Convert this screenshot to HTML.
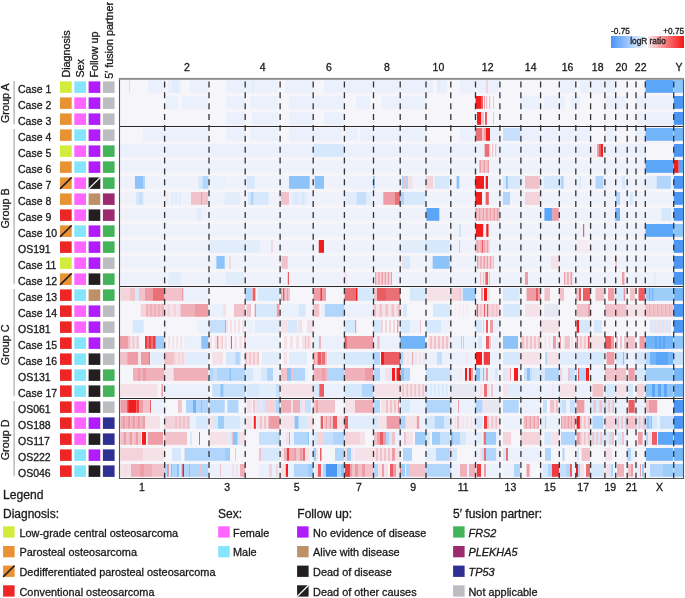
<!DOCTYPE html><html><head><meta charset="utf-8"><style>html,body{margin:0;padding:0;background:#fff;width:685px;height:598px;overflow:hidden}svg{display:block}text{font-family:"Liberation Sans",Arial,sans-serif;fill:#1a1a1a;stroke:#1a1a1a;stroke-width:0.3px}</style></head><body>
<svg width="685" height="598" viewBox="0 0 685 598">
<defs><linearGradient id="cb" x1="0" x2="1" y1="0" y2="0"><stop offset="0" stop-color="#4a94f8"/><stop offset="0.5" stop-color="#ffffff"/><stop offset="0.53" stop-color="#f6dde1"/><stop offset="1" stop-color="#f81414"/></linearGradient></defs>
<rect x="119.5" y="78.5" width="564.0" height="400.0" fill="#f6f5fa"/>
<rect x="120" y="80.0" width="563" height="12.8" fill="#f6f5fa"/>
<rect x="148.0" y="80.0" width="16.3" height="12.8" fill="#ebf1fc"/>
<rect x="168.0" y="80.0" width="13.0" height="12.8" fill="#ebf1fc"/>
<rect x="172.0" y="80.0" width="7.0" height="12.8" fill="#e2edfc"/>
<rect x="190.0" y="80.0" width="18.0" height="12.8" fill="#ebf1fc"/>
<rect x="226.0" y="80.0" width="19.0" height="12.8" fill="#ebf1fc"/>
<rect x="245.0" y="80.0" width="10.0" height="12.8" fill="#ebf1fc"/>
<rect x="252.0" y="80.0" width="2.0" height="12.8" fill="#e2edfc"/>
<rect x="255.0" y="80.0" width="23.0" height="12.8" fill="#ebf1fc"/>
<rect x="285.0" y="80.0" width="28.0" height="12.8" fill="#ebf1fc"/>
<rect x="324.0" y="80.0" width="20.0" height="12.8" fill="#ebf1fc"/>
<rect x="345.0" y="80.0" width="28.0" height="12.8" fill="#ebf1fc"/>
<rect x="374.0" y="80.0" width="26.0" height="12.8" fill="#ebf1fc"/>
<rect x="400.3" y="80.0" width="24.7" height="12.8" fill="#ebf1fc"/>
<rect x="425.8" y="80.0" width="7.2" height="12.8" fill="#ebf1fc"/>
<rect x="437.0" y="80.0" width="3.0" height="12.8" fill="#e2edfc"/>
<rect x="440.0" y="80.0" width="7.0" height="12.8" fill="#ebf1fc"/>
<rect x="460.0" y="80.0" width="15.0" height="12.8" fill="#ebf1fc"/>
<rect x="560.0" y="80.0" width="15.0" height="12.8" fill="#ebf1fc"/>
<rect x="580.0" y="80.0" width="10.0" height="12.8" fill="#ebf1fc"/>
<rect x="591.0" y="80.0" width="13.0" height="12.8" fill="#ebf1fc"/>
<rect x="605.0" y="80.0" width="10.0" height="12.8" fill="#ebf1fc"/>
<rect x="645.5" y="80.0" width="27.9" height="12.8" fill="#5ca6f7"/>
<rect x="673.8" y="80.0" width="9.2" height="12.8" fill="#8cc4fa"/>
<rect x="476.0" y="80.0" width="11.0" height="12.8" fill="#ebf1fc"/>
<rect x="487.0" y="80.0" width="1.0" height="12.8" fill="#ec5c63"/>
<rect x="486.0" y="80.0" width="3.0" height="12.8" fill="#f4d4da"/>
<rect x="488.0" y="80.0" width="11.0" height="12.8" fill="#ebf1fc"/>
<rect x="129.0" y="80.0" width="1.0" height="12.8" fill="#f4d4da"/>
<rect x="120" y="96.0" width="563" height="12.8" fill="#f6f5fa"/>
<rect x="166.0" y="96.0" width="12.0" height="12.8" fill="#ebf1fc"/>
<rect x="182.0" y="96.0" width="26.0" height="12.8" fill="#ebf1fc"/>
<rect x="226.0" y="96.0" width="19.0" height="12.8" fill="#ebf1fc"/>
<rect x="250.0" y="96.0" width="28.0" height="12.8" fill="#ebf1fc"/>
<rect x="289.0" y="96.0" width="24.0" height="12.8" fill="#ebf1fc"/>
<rect x="313.5" y="96.0" width="30.5" height="12.8" fill="#ebf1fc"/>
<rect x="356.0" y="96.0" width="14.0" height="12.8" fill="#ebf1fc"/>
<rect x="382.0" y="96.0" width="43.0" height="12.8" fill="#ebf1fc"/>
<rect x="520.4" y="96.0" width="19.6" height="12.8" fill="#ebf1fc"/>
<rect x="544.0" y="96.0" width="14.0" height="12.8" fill="#ebf1fc"/>
<rect x="560.0" y="96.0" width="5.0" height="12.8" fill="#ebf1fc"/>
<rect x="571.0" y="96.0" width="9.0" height="12.8" fill="#ebf1fc"/>
<rect x="605.0" y="96.0" width="21.0" height="12.8" fill="#ebf1fc"/>
<rect x="636.0" y="96.0" width="8.0" height="12.8" fill="#ebf1fc"/>
<rect x="645.5" y="96.0" width="27.9" height="12.8" fill="#ebf1fc"/>
<rect x="673.8" y="96.0" width="9.2" height="12.8" fill="#4a96f5"/>
<rect x="475.6" y="96.0" width="5.4" height="12.8" fill="#f21d1d"/>
<rect x="481.0" y="96.0" width="2.0" height="12.8" fill="#ec5c63"/>
<rect x="484.0" y="96.0" width="1.0" height="12.8" fill="#ee9da6"/>
<rect x="486.0" y="96.0" width="1.5" height="12.8" fill="#f2c2ca"/>
<rect x="487.5" y="96.0" width="1.5" height="12.8" fill="#f6f5fa"/>
<rect x="489.0" y="96.0" width="1.5" height="12.8" fill="#f2c2ca"/>
<rect x="490.5" y="96.0" width="0.5" height="12.8" fill="#f6f5fa"/>
<rect x="493.0" y="96.0" width="1.0" height="12.8" fill="#f2c2ca"/>
<rect x="120" y="112.0" width="563" height="12.8" fill="#f6f5fa"/>
<rect x="226.0" y="112.0" width="19.0" height="12.8" fill="#ebf1fc"/>
<rect x="252.0" y="112.0" width="26.0" height="12.8" fill="#ebf1fc"/>
<rect x="289.0" y="112.0" width="24.0" height="12.8" fill="#ebf1fc"/>
<rect x="324.0" y="112.0" width="20.0" height="12.8" fill="#ebf1fc"/>
<rect x="637.0" y="112.0" width="7.0" height="12.8" fill="#ebf1fc"/>
<rect x="645.5" y="112.0" width="27.9" height="12.8" fill="#ebf1fc"/>
<rect x="673.8" y="112.0" width="9.2" height="12.8" fill="#4a96f5"/>
<rect x="477.0" y="112.0" width="4.0" height="12.8" fill="#f21d1d"/>
<rect x="481.0" y="112.0" width="3.0" height="12.8" fill="#f2c2ca"/>
<rect x="485.0" y="112.0" width="2.0" height="12.8" fill="#ec5c63"/>
<rect x="493.0" y="112.0" width="1.0" height="12.8" fill="#f2c2ca"/>
<rect x="120" y="128.0" width="563" height="12.8" fill="#f6f5fa"/>
<rect x="143.0" y="128.0" width="65.0" height="12.8" fill="#ebf1fc"/>
<rect x="226.0" y="128.0" width="19.0" height="12.8" fill="#ebf1fc"/>
<rect x="250.0" y="128.0" width="28.0" height="12.8" fill="#ebf1fc"/>
<rect x="289.0" y="128.0" width="24.0" height="12.8" fill="#ebf1fc"/>
<rect x="313.5" y="128.0" width="28.5" height="12.8" fill="#ebf1fc"/>
<rect x="345.0" y="128.0" width="13.0" height="12.8" fill="#ebf1fc"/>
<rect x="360.0" y="128.0" width="13.0" height="12.8" fill="#ebf1fc"/>
<rect x="374.0" y="128.0" width="51.0" height="12.8" fill="#ebf1fc"/>
<rect x="460.0" y="128.0" width="15.0" height="12.8" fill="#ebf1fc"/>
<rect x="520.4" y="128.0" width="19.6" height="12.8" fill="#ebf1fc"/>
<rect x="541.0" y="128.0" width="17.0" height="12.8" fill="#ebf1fc"/>
<rect x="560.0" y="128.0" width="15.0" height="12.8" fill="#ebf1fc"/>
<rect x="576.0" y="128.0" width="14.0" height="12.8" fill="#ebf1fc"/>
<rect x="605.0" y="128.0" width="10.0" height="12.8" fill="#ebf1fc"/>
<rect x="636.0" y="128.0" width="8.0" height="12.8" fill="#ebf1fc"/>
<rect x="503.0" y="128.0" width="17.2" height="12.8" fill="#c6e0fb"/>
<rect x="673.8" y="128.0" width="9.2" height="12.8" fill="#72b4f8"/>
<rect x="475.6" y="128.0" width="6.4" height="12.8" fill="#ea7078"/>
<rect x="482.0" y="128.0" width="2.0" height="12.8" fill="#f2c2ca"/>
<rect x="484.0" y="128.0" width="2.0" height="12.8" fill="#ee9da6"/>
<rect x="486.0" y="128.0" width="4.0" height="12.8" fill="#f21d1d"/>
<rect x="490.0" y="128.0" width="9.8" height="12.8" fill="#ebf1fc"/>
<rect x="645.5" y="128.0" width="27.9" height="12.8" fill="#72b4f8"/>
<rect x="120" y="144.0" width="563" height="12.8" fill="#ebf1fc"/>
<rect x="313.9" y="144.0" width="30.1" height="12.8" fill="#d6e8fc"/>
<rect x="673.8" y="144.0" width="9.2" height="12.8" fill="#4a96f5"/>
<rect x="484.0" y="144.0" width="1.0" height="12.8" fill="#f2c2ca"/>
<rect x="485.0" y="144.0" width="4.0" height="12.8" fill="#ea7078"/>
<rect x="489.0" y="144.0" width="1.5" height="12.8" fill="#f2c2ca"/>
<rect x="490.5" y="144.0" width="1.5" height="12.8" fill="#f6f5fa"/>
<rect x="492.0" y="144.0" width="1.5" height="12.8" fill="#f2c2ca"/>
<rect x="493.5" y="144.0" width="1.5" height="12.8" fill="#f6f5fa"/>
<rect x="495.0" y="144.0" width="1.5" height="12.8" fill="#f2c2ca"/>
<rect x="496.5" y="144.0" width="0.5" height="12.8" fill="#f6f5fa"/>
<rect x="591.0" y="144.0" width="1.5" height="12.8" fill="#f5e2e8"/>
<rect x="592.5" y="144.0" width="1.5" height="12.8" fill="#f6f5fa"/>
<rect x="594.0" y="144.0" width="1.5" height="12.8" fill="#f5e2e8"/>
<rect x="595.5" y="144.0" width="1.5" height="12.8" fill="#f6f5fa"/>
<rect x="597.0" y="144.0" width="2.0" height="12.8" fill="#ee9da6"/>
<rect x="599.0" y="144.0" width="2.0" height="12.8" fill="#ec5c63"/>
<rect x="601.0" y="144.0" width="2.0" height="12.8" fill="#f21d1d"/>
<rect x="645.5" y="144.0" width="27.9" height="12.8" fill="#f6f5fa"/>
<rect x="120" y="160.0" width="563" height="12.8" fill="#f0f2fb"/>
<rect x="479.4" y="160.0" width="2.0" height="12.8" fill="#ee9da6"/>
<rect x="481.4" y="160.0" width="2.0" height="12.8" fill="#f2c2ca"/>
<rect x="483.4" y="160.0" width="2.0" height="12.8" fill="#ee9da6"/>
<rect x="485.4" y="160.0" width="2.0" height="12.8" fill="#f2c2ca"/>
<rect x="487.4" y="160.0" width="1.6" height="12.8" fill="#ee9da6"/>
<rect x="645.5" y="160.0" width="27.9" height="12.8" fill="#5ca6f7"/>
<rect x="673.8" y="160.0" width="4.9" height="12.8" fill="#f21d1d"/>
<rect x="678.7" y="160.0" width="4.3" height="12.8" fill="#5ca6f7"/>
<rect x="120" y="176.0" width="563" height="12.8" fill="#f0f2fb"/>
<rect x="135.0" y="176.0" width="8.0" height="12.8" fill="#8cc4fa"/>
<rect x="143.0" y="176.0" width="2.0" height="12.8" fill="#b2d6fb"/>
<rect x="198.6" y="176.0" width="10.9" height="12.8" fill="#d6e8fc"/>
<rect x="202.7" y="176.0" width="5.3" height="12.8" fill="#b2d6fb"/>
<rect x="209.5" y="176.0" width="16.5" height="12.8" fill="#ebf1fc"/>
<rect x="246.6" y="176.0" width="8.2" height="12.8" fill="#d6e8fc"/>
<rect x="289.0" y="176.0" width="20.7" height="12.8" fill="#8cc4fa"/>
<rect x="314.7" y="176.0" width="9.3" height="12.8" fill="#8cc4fa"/>
<rect x="401.7" y="176.0" width="2.3" height="12.8" fill="#b2d6fb"/>
<rect x="404.0" y="176.0" width="2.0" height="12.8" fill="#f2c2ca"/>
<rect x="406.0" y="176.0" width="2.0" height="12.8" fill="#b2d6fb"/>
<rect x="408.0" y="176.0" width="4.6" height="12.8" fill="#f5e2e8"/>
<rect x="426.0" y="176.0" width="7.0" height="12.8" fill="#f4d4da"/>
<rect x="434.6" y="176.0" width="15.1" height="12.8" fill="#d6e8fc"/>
<rect x="456.6" y="176.0" width="2.7" height="12.8" fill="#8cc4fa"/>
<rect x="475.3" y="176.0" width="8.7" height="12.8" fill="#f21d1d"/>
<rect x="485.7" y="176.0" width="2.3" height="12.8" fill="#f21d1d"/>
<rect x="503.0" y="176.0" width="17.2" height="12.8" fill="#d6e8fc"/>
<rect x="506.0" y="176.0" width="1.7" height="12.8" fill="#8cc4fa"/>
<rect x="525.0" y="176.0" width="14.7" height="12.8" fill="#f2c2ca"/>
<rect x="543.8" y="176.0" width="20.2" height="12.8" fill="#d6e8fc"/>
<rect x="561.0" y="176.0" width="2.5" height="12.8" fill="#b2d6fb"/>
<rect x="579.5" y="176.0" width="1.5" height="12.8" fill="#d6e8fc"/>
<rect x="595.5" y="176.0" width="7.9" height="12.8" fill="#b2d6fb"/>
<rect x="622.0" y="176.0" width="3.0" height="12.8" fill="#d6e8fc"/>
<rect x="645.5" y="176.0" width="11.5" height="12.8" fill="#e2edfc"/>
<rect x="656.8" y="176.0" width="14.1" height="12.8" fill="#b2d6fb"/>
<rect x="673.8" y="176.0" width="9.2" height="12.8" fill="#4a96f5"/>
<rect x="351.0" y="176.0" width="22.0" height="12.8" fill="#ebf1fc"/>
<rect x="373.0" y="176.0" width="2.0" height="12.8" fill="#9fcdfa"/>
<rect x="120" y="192.0" width="563" height="12.8" fill="#f0f2fb"/>
<rect x="248.0" y="192.0" width="20.6" height="12.8" fill="#d6e8fc"/>
<rect x="250.7" y="192.0" width="2.8" height="12.8" fill="#b2d6fb"/>
<rect x="281.0" y="192.0" width="8.0" height="12.8" fill="#f2c2ca"/>
<rect x="383.3" y="192.0" width="11.7" height="12.8" fill="#ee9da6"/>
<rect x="395.0" y="192.0" width="5.3" height="12.8" fill="#ea7078"/>
<rect x="400.3" y="192.0" width="4.1" height="12.8" fill="#b2d6fb"/>
<rect x="404.4" y="192.0" width="20.6" height="12.8" fill="#d6e8fc"/>
<rect x="475.3" y="192.0" width="6.7" height="12.8" fill="#f21d1d"/>
<rect x="485.7" y="192.0" width="3.1" height="12.8" fill="#ec5c63"/>
<rect x="503.0" y="192.0" width="7.0" height="12.8" fill="#b2d6fb"/>
<rect x="616.0" y="192.0" width="4.0" height="12.8" fill="#b2d6fb"/>
<rect x="630.0" y="192.0" width="3.0" height="12.8" fill="#d6e8fc"/>
<rect x="673.8" y="192.0" width="9.2" height="12.8" fill="#4a96f5"/>
<rect x="136.0" y="192.0" width="7.7" height="12.8" fill="#d6e8fc"/>
<rect x="139.0" y="192.0" width="3.0" height="12.8" fill="#c6e0fb"/>
<rect x="166.5" y="192.0" width="1.0" height="12.8" fill="#f5e2e8"/>
<rect x="171.0" y="192.0" width="2.0" height="12.8" fill="#e2edfc"/>
<rect x="173.0" y="192.0" width="2.0" height="12.8" fill="#ebf1fc"/>
<rect x="175.0" y="192.0" width="2.0" height="12.8" fill="#e2edfc"/>
<rect x="177.0" y="192.0" width="2.0" height="12.8" fill="#ebf1fc"/>
<rect x="179.0" y="192.0" width="2.0" height="12.8" fill="#e2edfc"/>
<rect x="181.0" y="192.0" width="1.0" height="12.8" fill="#ebf1fc"/>
<rect x="191.0" y="192.0" width="17.0" height="12.8" fill="#f2c2ca"/>
<rect x="201.0" y="192.0" width="1.0" height="12.8" fill="#ee9da6"/>
<rect x="224.6" y="192.0" width="15.1" height="12.8" fill="#e2edfc"/>
<rect x="290.5" y="192.0" width="16.5" height="12.8" fill="#e2edfc"/>
<rect x="295.0" y="192.0" width="2.0" height="12.8" fill="#d6e8fc"/>
<rect x="302.0" y="192.0" width="2.0" height="12.8" fill="#d6e8fc"/>
<rect x="345.4" y="192.0" width="10.6" height="12.8" fill="#e2edfc"/>
<rect x="356.4" y="192.0" width="9.6" height="12.8" fill="#c6e0fb"/>
<rect x="366.0" y="192.0" width="5.5" height="12.8" fill="#e2edfc"/>
<rect x="525.0" y="192.0" width="15.0" height="12.8" fill="#f4d4da"/>
<rect x="120" y="208.0" width="563" height="12.8" fill="#f0f2fb"/>
<rect x="426.4" y="208.0" width="12.9" height="12.8" fill="#5ca6f7"/>
<rect x="475.3" y="208.0" width="1.8" height="12.8" fill="#ee9da6"/>
<rect x="477.1" y="208.0" width="1.8" height="12.8" fill="#f2c2ca"/>
<rect x="478.9" y="208.0" width="1.8" height="12.8" fill="#ee9da6"/>
<rect x="480.7" y="208.0" width="1.8" height="12.8" fill="#f2c2ca"/>
<rect x="482.5" y="208.0" width="1.8" height="12.8" fill="#ee9da6"/>
<rect x="484.3" y="208.0" width="1.8" height="12.8" fill="#f2c2ca"/>
<rect x="486.1" y="208.0" width="1.8" height="12.8" fill="#ee9da6"/>
<rect x="487.9" y="208.0" width="1.8" height="12.8" fill="#f2c2ca"/>
<rect x="489.7" y="208.0" width="1.8" height="12.8" fill="#ee9da6"/>
<rect x="491.5" y="208.0" width="1.8" height="12.8" fill="#f2c2ca"/>
<rect x="493.3" y="208.0" width="1.8" height="12.8" fill="#ee9da6"/>
<rect x="495.1" y="208.0" width="1.8" height="12.8" fill="#f2c2ca"/>
<rect x="496.9" y="208.0" width="1.8" height="12.8" fill="#ee9da6"/>
<rect x="498.7" y="208.0" width="1.1" height="12.8" fill="#f2c2ca"/>
<rect x="552.2" y="208.0" width="6.6" height="12.8" fill="#ee9da6"/>
<rect x="661.5" y="208.0" width="9.5" height="12.8" fill="#d6e8fc"/>
<rect x="673.8" y="208.0" width="9.2" height="12.8" fill="#4a96f5"/>
<rect x="197.0" y="208.0" width="4.3" height="12.8" fill="#e2edfc"/>
<rect x="544.4" y="208.0" width="7.8" height="12.8" fill="#5ca6f7"/>
<rect x="615.3" y="208.0" width="4.7" height="12.8" fill="#72b4f8"/>
<rect x="120" y="224.0" width="563" height="12.8" fill="#f0f2fb"/>
<rect x="459.4" y="224.0" width="1.0" height="12.8" fill="#b2d6fb"/>
<rect x="475.8" y="224.0" width="7.4" height="12.8" fill="#f21d1d"/>
<rect x="486.3" y="224.0" width="2.2" height="12.8" fill="#f21d1d"/>
<rect x="583.0" y="224.0" width="1.2" height="12.8" fill="#ec5c63"/>
<rect x="645.5" y="224.0" width="27.9" height="12.8" fill="#5ca6f7"/>
<rect x="673.8" y="224.0" width="9.2" height="12.8" fill="#8cc4fa"/>
<rect x="120" y="240.0" width="563" height="12.8" fill="#f0f2fb"/>
<rect x="318.0" y="240.0" width="1.0" height="12.8" fill="#f2c2ca"/>
<rect x="319.0" y="240.0" width="5.0" height="12.8" fill="#f21d1d"/>
<rect x="475.5" y="240.0" width="1.6" height="12.8" fill="#f2c2ca"/>
<rect x="477.1" y="240.0" width="1.6" height="12.8" fill="#ee9da6"/>
<rect x="478.7" y="240.0" width="1.6" height="12.8" fill="#f2c2ca"/>
<rect x="480.3" y="240.0" width="1.6" height="12.8" fill="#ee9da6"/>
<rect x="481.9" y="240.0" width="1.6" height="12.8" fill="#f2c2ca"/>
<rect x="483.5" y="240.0" width="1.6" height="12.8" fill="#ee9da6"/>
<rect x="485.1" y="240.0" width="1.6" height="12.8" fill="#f2c2ca"/>
<rect x="486.7" y="240.0" width="1.6" height="12.8" fill="#ee9da6"/>
<rect x="488.3" y="240.0" width="1.2" height="12.8" fill="#f2c2ca"/>
<rect x="482.0" y="240.0" width="1.0" height="12.8" fill="#ec5c63"/>
<rect x="673.8" y="240.0" width="9.2" height="12.8" fill="#4a96f5"/>
<rect x="209.5" y="240.0" width="50.5" height="12.8" fill="#e2edfc"/>
<rect x="271.5" y="240.0" width="1.0" height="12.8" fill="#f2c2ca"/>
<rect x="577.0" y="240.0" width="12.0" height="12.8" fill="#f5ecf2"/>
<rect x="400.3" y="240.0" width="25.5" height="12.8" fill="#e2edfc"/>
<rect x="425.8" y="240.0" width="23.9" height="12.8" fill="#d6e8fc"/>
<rect x="459.0" y="240.0" width="1.0" height="12.8" fill="#b2d6fb"/>
<rect x="120" y="256.0" width="563" height="12.8" fill="#f0f2fb"/>
<rect x="216.4" y="256.0" width="8.3" height="12.8" fill="#8cc4fa"/>
<rect x="229.5" y="256.0" width="1.0" height="12.8" fill="#f2c2ca"/>
<rect x="281.5" y="256.0" width="6.3" height="12.8" fill="#f2c2ca"/>
<rect x="401.7" y="256.0" width="8.3" height="12.8" fill="#d6e8fc"/>
<rect x="402.0" y="256.0" width="1.0" height="12.8" fill="#f5e2e8"/>
<rect x="432.7" y="256.0" width="17.0" height="12.8" fill="#8cc4fa"/>
<rect x="477.0" y="256.0" width="1.6" height="12.8" fill="#ee9da6"/>
<rect x="478.6" y="256.0" width="1.6" height="12.8" fill="#f4d4da"/>
<rect x="480.2" y="256.0" width="1.6" height="12.8" fill="#ee9da6"/>
<rect x="481.8" y="256.0" width="1.6" height="12.8" fill="#f4d4da"/>
<rect x="483.4" y="256.0" width="1.6" height="12.8" fill="#ee9da6"/>
<rect x="485.0" y="256.0" width="1.6" height="12.8" fill="#f4d4da"/>
<rect x="486.6" y="256.0" width="1.6" height="12.8" fill="#ee9da6"/>
<rect x="488.2" y="256.0" width="1.6" height="12.8" fill="#f4d4da"/>
<rect x="489.8" y="256.0" width="1.6" height="12.8" fill="#ee9da6"/>
<rect x="491.4" y="256.0" width="1.6" height="12.8" fill="#f4d4da"/>
<rect x="493.0" y="256.0" width="0.6" height="12.8" fill="#ee9da6"/>
<rect x="615.5" y="256.0" width="1.5" height="12.8" fill="#f2c2ca"/>
<rect x="673.8" y="256.0" width="9.2" height="12.8" fill="#4a96f5"/>
<rect x="551.0" y="256.0" width="8.0" height="12.8" fill="#f5e2e8"/>
<rect x="120" y="272.0" width="563" height="12.8" fill="#f0f2fb"/>
<rect x="287.8" y="272.0" width="1.2" height="12.8" fill="#ec5c63"/>
<rect x="344.6" y="272.0" width="2.2" height="12.8" fill="#f5e2e8"/>
<rect x="375.0" y="272.0" width="1.6" height="12.8" fill="#ee9da6"/>
<rect x="376.6" y="272.0" width="1.6" height="12.8" fill="#f4d4da"/>
<rect x="378.2" y="272.0" width="1.6" height="12.8" fill="#ee9da6"/>
<rect x="379.8" y="272.0" width="1.6" height="12.8" fill="#f4d4da"/>
<rect x="381.4" y="272.0" width="1.6" height="12.8" fill="#ee9da6"/>
<rect x="383.0" y="272.0" width="1.6" height="12.8" fill="#f4d4da"/>
<rect x="384.6" y="272.0" width="1.6" height="12.8" fill="#ee9da6"/>
<rect x="386.2" y="272.0" width="1.6" height="12.8" fill="#f4d4da"/>
<rect x="387.8" y="272.0" width="1.6" height="12.8" fill="#ee9da6"/>
<rect x="389.4" y="272.0" width="1.6" height="12.8" fill="#f4d4da"/>
<rect x="391.0" y="272.0" width="1.0" height="12.8" fill="#ee9da6"/>
<rect x="525.0" y="272.0" width="3.0" height="12.8" fill="#ee9da6"/>
<rect x="564.0" y="272.0" width="1.6" height="12.8" fill="#ee9da6"/>
<rect x="565.6" y="272.0" width="1.6" height="12.8" fill="#f5e2e8"/>
<rect x="567.2" y="272.0" width="1.6" height="12.8" fill="#ee9da6"/>
<rect x="568.8" y="272.0" width="1.6" height="12.8" fill="#f5e2e8"/>
<rect x="570.4" y="272.0" width="1.6" height="12.8" fill="#ee9da6"/>
<rect x="572.0" y="272.0" width="1.6" height="12.8" fill="#f5e2e8"/>
<rect x="622.0" y="272.0" width="2.5" height="12.8" fill="#ee9da6"/>
<rect x="654.5" y="272.0" width="1.0" height="12.8" fill="#d6e8fc"/>
<rect x="673.8" y="272.0" width="9.2" height="12.8" fill="#4a96f5"/>
<rect x="168.4" y="272.0" width="12.3" height="12.8" fill="#e2edfc"/>
<rect x="226.0" y="272.0" width="18.0" height="12.8" fill="#e2edfc"/>
<rect x="480.0" y="272.0" width="1.5" height="12.8" fill="#f2c2ca"/>
<rect x="481.5" y="272.0" width="1.5" height="12.8" fill="#f5ecf2"/>
<rect x="483.0" y="272.0" width="1.5" height="12.8" fill="#f2c2ca"/>
<rect x="484.5" y="272.0" width="1.5" height="12.8" fill="#f5ecf2"/>
<rect x="486.0" y="272.0" width="1.5" height="12.8" fill="#f2c2ca"/>
<rect x="487.5" y="272.0" width="1.5" height="12.8" fill="#f5ecf2"/>
<rect x="489.0" y="272.0" width="1.0" height="12.8" fill="#f2c2ca"/>
<rect x="485.4" y="272.0" width="2.6" height="12.8" fill="#ec5c63"/>
<rect x="120" y="288.0" width="563" height="12.8" fill="#f6f5fa"/>
<rect x="164.3" y="288.0" width="19.2" height="12.8" fill="#f2c2ca"/>
<rect x="182.0" y="288.0" width="1.5" height="12.8" fill="#ee9da6"/>
<rect x="183.5" y="288.0" width="24.5" height="12.8" fill="#ebf1fc"/>
<rect x="245.2" y="288.0" width="6.8" height="12.8" fill="#b2d6fb"/>
<rect x="252.6" y="288.0" width="2.8" height="12.8" fill="#ec5c63"/>
<rect x="257.6" y="288.0" width="1.4" height="12.8" fill="#d6e8fc"/>
<rect x="526.5" y="288.0" width="14.1" height="12.8" fill="#ee9da6"/>
<rect x="536.0" y="288.0" width="2.0" height="12.8" fill="#ec5c63"/>
<rect x="544.4" y="288.0" width="5.6" height="12.8" fill="#f2c2ca"/>
<rect x="559.4" y="288.0" width="4.6" height="12.8" fill="#f2c2ca"/>
<rect x="595.5" y="288.0" width="8.8" height="12.8" fill="#f2c2ca"/>
<rect x="608.0" y="288.0" width="6.4" height="12.8" fill="#ee9da6"/>
<rect x="615.3" y="288.0" width="10.7" height="12.8" fill="#d6e8fc"/>
<rect x="623.8" y="288.0" width="0.8" height="12.8" fill="#ec5c63"/>
<rect x="630.0" y="288.0" width="4.8" height="12.8" fill="#f2c2ca"/>
<rect x="638.5" y="288.0" width="6.3" height="12.8" fill="#ec5c63"/>
<rect x="645.5" y="288.0" width="27.9" height="12.8" fill="#9fcdfa"/>
<rect x="649.0" y="288.0" width="1.5" height="12.8" fill="#72b4f8"/>
<rect x="650.5" y="288.0" width="1.5" height="12.8" fill="#9fcdfa"/>
<rect x="652.0" y="288.0" width="1.5" height="12.8" fill="#72b4f8"/>
<rect x="653.5" y="288.0" width="0.5" height="12.8" fill="#9fcdfa"/>
<rect x="673.8" y="288.0" width="9.2" height="12.8" fill="#72b4f8"/>
<rect x="120.4" y="288.0" width="9.6" height="12.8" fill="#f4d4da"/>
<rect x="130.0" y="288.0" width="5.5" height="12.8" fill="#f2c2ca"/>
<rect x="135.5" y="288.0" width="3.3" height="12.8" fill="#d6e8fc"/>
<rect x="138.8" y="288.0" width="6.2" height="12.8" fill="#f2c2ca"/>
<rect x="145.0" y="288.0" width="8.0" height="12.8" fill="#ee9da6"/>
<rect x="153.0" y="288.0" width="11.3" height="12.8" fill="#ea7078"/>
<rect x="259.0" y="288.0" width="20.5" height="12.8" fill="#d6e8fc"/>
<rect x="281.0" y="288.0" width="1.5" height="12.8" fill="#ee9da6"/>
<rect x="282.5" y="288.0" width="1.5" height="12.8" fill="#f2c2ca"/>
<rect x="284.0" y="288.0" width="1.5" height="12.8" fill="#ee9da6"/>
<rect x="285.5" y="288.0" width="1.5" height="12.8" fill="#f2c2ca"/>
<rect x="287.0" y="288.0" width="1.5" height="12.8" fill="#ee9da6"/>
<rect x="288.5" y="288.0" width="1.5" height="12.8" fill="#f2c2ca"/>
<rect x="283.0" y="288.0" width="1.0" height="12.8" fill="#ec5c63"/>
<rect x="313.5" y="288.0" width="12.5" height="12.8" fill="#ee9da6"/>
<rect x="320.5" y="288.0" width="1.5" height="12.8" fill="#ef3c40"/>
<rect x="344.6" y="288.0" width="11.4" height="12.8" fill="#ea7078"/>
<rect x="356.0" y="288.0" width="1.5" height="12.8" fill="#f21d1d"/>
<rect x="358.0" y="288.0" width="15.4" height="12.8" fill="#d6e8fc"/>
<rect x="373.7" y="288.0" width="3.3" height="12.8" fill="#f2c2ca"/>
<rect x="377.0" y="288.0" width="2.0" height="12.8" fill="#ec5c63"/>
<rect x="379.0" y="288.0" width="7.0" height="12.8" fill="#ec5c63"/>
<rect x="386.0" y="288.0" width="14.3" height="12.8" fill="#ea7078"/>
<rect x="410.0" y="288.0" width="15.8" height="12.8" fill="#d6e8fc"/>
<rect x="425.8" y="288.0" width="24.7" height="12.8" fill="#f5e2e8"/>
<rect x="450.5" y="288.0" width="9.5" height="12.8" fill="#f4d4da"/>
<rect x="460.0" y="288.0" width="1.5" height="12.8" fill="#f2c2ca"/>
<rect x="461.5" y="288.0" width="1.5" height="12.8" fill="#d6e8fc"/>
<rect x="463.0" y="288.0" width="12.6" height="12.8" fill="#9fcdfa"/>
<rect x="481.0" y="288.0" width="2.0" height="12.8" fill="#ee9da6"/>
<rect x="484.0" y="288.0" width="3.0" height="12.8" fill="#f21d1d"/>
<rect x="487.0" y="288.0" width="3.0" height="12.8" fill="#f5e2e8"/>
<rect x="503.0" y="288.0" width="16.5" height="12.8" fill="#d6e8fc"/>
<rect x="575.7" y="288.0" width="3.3" height="12.8" fill="#f2c2ca"/>
<rect x="579.0" y="288.0" width="2.0" height="12.8" fill="#ec5c63"/>
<rect x="583.0" y="288.0" width="7.2" height="12.8" fill="#ec5c63"/>
<rect x="120" y="304.0" width="563" height="12.8" fill="#f6f5fa"/>
<rect x="209.5" y="304.0" width="13.5" height="12.8" fill="#ebf1fc"/>
<rect x="223.0" y="304.0" width="3.0" height="12.8" fill="#f5e2e8"/>
<rect x="234.0" y="304.0" width="11.0" height="12.8" fill="#f2c2ca"/>
<rect x="246.6" y="304.0" width="4.4" height="12.8" fill="#f2c2ca"/>
<rect x="254.8" y="304.0" width="0.8" height="12.8" fill="#ec5c63"/>
<rect x="256.0" y="304.0" width="20.8" height="12.8" fill="#d6e8fc"/>
<rect x="276.8" y="304.0" width="2.7" height="12.8" fill="#ee9da6"/>
<rect x="281.0" y="304.0" width="17.7" height="12.8" fill="#ebf1fc"/>
<rect x="298.7" y="304.0" width="6.9" height="12.8" fill="#d6e8fc"/>
<rect x="313.0" y="304.0" width="6.3" height="12.8" fill="#f2c2ca"/>
<rect x="320.7" y="304.0" width="4.1" height="12.8" fill="#ebf1fc"/>
<rect x="324.8" y="304.0" width="19.8" height="12.8" fill="#b2d6fb"/>
<rect x="344.6" y="304.0" width="28.8" height="12.8" fill="#ebf1fc"/>
<rect x="373.4" y="304.0" width="3.0" height="12.8" fill="#f2c2ca"/>
<rect x="376.4" y="304.0" width="3.0" height="12.8" fill="#f5e2e8"/>
<rect x="379.4" y="304.0" width="3.0" height="12.8" fill="#f2c2ca"/>
<rect x="382.4" y="304.0" width="3.0" height="12.8" fill="#f5e2e8"/>
<rect x="385.4" y="304.0" width="3.0" height="12.8" fill="#f2c2ca"/>
<rect x="388.4" y="304.0" width="3.0" height="12.8" fill="#f5e2e8"/>
<rect x="391.4" y="304.0" width="3.0" height="12.8" fill="#f2c2ca"/>
<rect x="394.4" y="304.0" width="3.0" height="12.8" fill="#f5e2e8"/>
<rect x="397.4" y="304.0" width="2.9" height="12.8" fill="#f2c2ca"/>
<rect x="503.0" y="304.0" width="17.2" height="12.8" fill="#d6e8fc"/>
<rect x="525.0" y="304.0" width="15.6" height="12.8" fill="#f5e2e8"/>
<rect x="544.4" y="304.0" width="2.0" height="12.8" fill="#d6e8fc"/>
<rect x="546.4" y="304.0" width="2.0" height="12.8" fill="#f5e2e8"/>
<rect x="548.4" y="304.0" width="2.0" height="12.8" fill="#d6e8fc"/>
<rect x="550.4" y="304.0" width="2.0" height="12.8" fill="#f5e2e8"/>
<rect x="552.4" y="304.0" width="2.0" height="12.8" fill="#d6e8fc"/>
<rect x="554.4" y="304.0" width="2.0" height="12.8" fill="#f5e2e8"/>
<rect x="556.4" y="304.0" width="2.0" height="12.8" fill="#d6e8fc"/>
<rect x="558.4" y="304.0" width="0.4" height="12.8" fill="#f5e2e8"/>
<rect x="576.7" y="304.0" width="11.0" height="12.8" fill="#f2c2ca"/>
<rect x="587.7" y="304.0" width="2.5" height="12.8" fill="#ee9da6"/>
<rect x="605.0" y="304.0" width="10.3" height="12.8" fill="#f2c2ca"/>
<rect x="615.3" y="304.0" width="10.7" height="12.8" fill="#f2c2ca"/>
<rect x="626.0" y="304.0" width="18.8" height="12.8" fill="#f5e2e8"/>
<rect x="645.5" y="304.0" width="1.3" height="12.8" fill="#f0b0b9"/>
<rect x="646.8" y="304.0" width="2.0" height="12.8" fill="#f2c2ca"/>
<rect x="648.8" y="304.0" width="2.0" height="12.8" fill="#f0b0b9"/>
<rect x="650.8" y="304.0" width="2.0" height="12.8" fill="#f2c2ca"/>
<rect x="652.8" y="304.0" width="2.0" height="12.8" fill="#f0b0b9"/>
<rect x="654.8" y="304.0" width="2.0" height="12.8" fill="#f2c2ca"/>
<rect x="656.8" y="304.0" width="2.0" height="12.8" fill="#f0b0b9"/>
<rect x="658.8" y="304.0" width="2.0" height="12.8" fill="#f2c2ca"/>
<rect x="660.8" y="304.0" width="2.0" height="12.8" fill="#f0b0b9"/>
<rect x="662.8" y="304.0" width="2.0" height="12.8" fill="#f2c2ca"/>
<rect x="664.8" y="304.0" width="2.0" height="12.8" fill="#f0b0b9"/>
<rect x="666.8" y="304.0" width="2.0" height="12.8" fill="#f2c2ca"/>
<rect x="668.8" y="304.0" width="2.0" height="12.8" fill="#f0b0b9"/>
<rect x="670.8" y="304.0" width="2.0" height="12.8" fill="#f2c2ca"/>
<rect x="672.8" y="304.0" width="0.6" height="12.8" fill="#f0b0b9"/>
<rect x="673.8" y="304.0" width="9.2" height="12.8" fill="#4a96f5"/>
<rect x="140.6" y="304.0" width="5.4" height="12.8" fill="#f4d4da"/>
<rect x="146.0" y="304.0" width="2.0" height="12.8" fill="#f0b0b9"/>
<rect x="148.0" y="304.0" width="2.0" height="12.8" fill="#f2c2ca"/>
<rect x="150.0" y="304.0" width="2.0" height="12.8" fill="#f0b0b9"/>
<rect x="152.0" y="304.0" width="2.0" height="12.8" fill="#f2c2ca"/>
<rect x="154.0" y="304.0" width="2.0" height="12.8" fill="#f0b0b9"/>
<rect x="156.0" y="304.0" width="2.0" height="12.8" fill="#f2c2ca"/>
<rect x="158.0" y="304.0" width="2.0" height="12.8" fill="#f0b0b9"/>
<rect x="160.0" y="304.0" width="2.0" height="12.8" fill="#f2c2ca"/>
<rect x="162.0" y="304.0" width="2.0" height="12.8" fill="#f0b0b9"/>
<rect x="164.0" y="304.0" width="0.3" height="12.8" fill="#f2c2ca"/>
<rect x="164.3" y="304.0" width="3.0" height="12.8" fill="#f5e2e8"/>
<rect x="167.3" y="304.0" width="3.0" height="12.8" fill="#f4d4da"/>
<rect x="170.3" y="304.0" width="3.0" height="12.8" fill="#f5e2e8"/>
<rect x="173.3" y="304.0" width="3.0" height="12.8" fill="#f4d4da"/>
<rect x="176.3" y="304.0" width="3.0" height="12.8" fill="#f5e2e8"/>
<rect x="179.3" y="304.0" width="1.4" height="12.8" fill="#f4d4da"/>
<rect x="180.7" y="304.0" width="14.3" height="12.8" fill="#f0b0b9"/>
<rect x="195.0" y="304.0" width="13.2" height="12.8" fill="#ee9da6"/>
<rect x="400.3" y="304.0" width="1.7" height="12.8" fill="#f5e2e8"/>
<rect x="403.0" y="304.0" width="4.0" height="12.8" fill="#d6e8fc"/>
<rect x="433.0" y="304.0" width="17.5" height="12.8" fill="#d6e8fc"/>
<rect x="450.5" y="304.0" width="2.0" height="12.8" fill="#f5ecf2"/>
<rect x="452.5" y="304.0" width="2.0" height="12.8" fill="#f6f5fa"/>
<rect x="454.5" y="304.0" width="2.0" height="12.8" fill="#f5ecf2"/>
<rect x="456.5" y="304.0" width="2.0" height="12.8" fill="#f6f5fa"/>
<rect x="458.5" y="304.0" width="2.0" height="12.8" fill="#f5ecf2"/>
<rect x="460.5" y="304.0" width="2.0" height="12.8" fill="#f6f5fa"/>
<rect x="462.5" y="304.0" width="2.0" height="12.8" fill="#f5ecf2"/>
<rect x="464.5" y="304.0" width="2.0" height="12.8" fill="#f6f5fa"/>
<rect x="466.5" y="304.0" width="2.0" height="12.8" fill="#f5ecf2"/>
<rect x="468.5" y="304.0" width="1.5" height="12.8" fill="#f6f5fa"/>
<rect x="475.8" y="304.0" width="2.0" height="12.8" fill="#f2c2ca"/>
<rect x="477.8" y="304.0" width="2.0" height="12.8" fill="#f4d4da"/>
<rect x="479.8" y="304.0" width="2.0" height="12.8" fill="#f2c2ca"/>
<rect x="481.8" y="304.0" width="2.0" height="12.8" fill="#f4d4da"/>
<rect x="483.8" y="304.0" width="2.0" height="12.8" fill="#f2c2ca"/>
<rect x="485.8" y="304.0" width="2.0" height="12.8" fill="#f4d4da"/>
<rect x="487.8" y="304.0" width="2.0" height="12.8" fill="#f2c2ca"/>
<rect x="489.8" y="304.0" width="2.0" height="12.8" fill="#f4d4da"/>
<rect x="491.8" y="304.0" width="2.0" height="12.8" fill="#f2c2ca"/>
<rect x="493.8" y="304.0" width="2.0" height="12.8" fill="#f4d4da"/>
<rect x="495.8" y="304.0" width="2.0" height="12.8" fill="#f2c2ca"/>
<rect x="497.8" y="304.0" width="2.0" height="12.8" fill="#f4d4da"/>
<rect x="477.0" y="304.0" width="1.0" height="12.8" fill="#ec5c63"/>
<rect x="484.0" y="304.0" width="1.0" height="12.8" fill="#ec5c63"/>
<rect x="487.0" y="304.0" width="1.0" height="12.8" fill="#ec5c63"/>
<rect x="120" y="320.0" width="563" height="12.8" fill="#f6f5fa"/>
<rect x="132.7" y="320.0" width="11.0" height="12.8" fill="#d6e8fc"/>
<rect x="164.3" y="320.0" width="2.7" height="12.8" fill="#ebf1fc"/>
<rect x="197.3" y="320.0" width="10.9" height="12.8" fill="#ebf1fc"/>
<rect x="209.5" y="320.0" width="16.5" height="12.8" fill="#c6e0fb"/>
<rect x="225.0" y="320.0" width="1.0" height="12.8" fill="#ee9da6"/>
<rect x="226.0" y="320.0" width="2.0" height="12.8" fill="#f5e2e8"/>
<rect x="228.0" y="320.0" width="2.0" height="12.8" fill="#f6f5fa"/>
<rect x="230.0" y="320.0" width="2.0" height="12.8" fill="#f5e2e8"/>
<rect x="232.0" y="320.0" width="2.0" height="12.8" fill="#f6f5fa"/>
<rect x="234.0" y="320.0" width="2.0" height="12.8" fill="#f5e2e8"/>
<rect x="236.0" y="320.0" width="2.0" height="12.8" fill="#f6f5fa"/>
<rect x="238.0" y="320.0" width="2.0" height="12.8" fill="#f5e2e8"/>
<rect x="240.0" y="320.0" width="2.0" height="12.8" fill="#f6f5fa"/>
<rect x="242.0" y="320.0" width="2.0" height="12.8" fill="#f5e2e8"/>
<rect x="244.0" y="320.0" width="1.0" height="12.8" fill="#f6f5fa"/>
<rect x="246.6" y="320.0" width="6.9" height="12.8" fill="#ebf1fc"/>
<rect x="281.0" y="320.0" width="6.8" height="12.8" fill="#f5e2e8"/>
<rect x="287.8" y="320.0" width="9.6" height="12.8" fill="#d6e8fc"/>
<rect x="298.7" y="320.0" width="1.0" height="12.8" fill="#f2c2ca"/>
<rect x="299.7" y="320.0" width="1.0" height="12.8" fill="#f6f5fa"/>
<rect x="300.7" y="320.0" width="0.8" height="12.8" fill="#f2c2ca"/>
<rect x="307.0" y="320.0" width="5.5" height="12.8" fill="#f5e2e8"/>
<rect x="344.6" y="320.0" width="10.4" height="12.8" fill="#d6e8fc"/>
<rect x="355.0" y="320.0" width="1.2" height="12.8" fill="#ee9da6"/>
<rect x="373.4" y="320.0" width="7.6" height="12.8" fill="#d6e8fc"/>
<rect x="381.0" y="320.0" width="2.0" height="12.8" fill="#f4d4da"/>
<rect x="383.0" y="320.0" width="2.0" height="12.8" fill="#f6f5fa"/>
<rect x="385.0" y="320.0" width="2.0" height="12.8" fill="#f4d4da"/>
<rect x="387.0" y="320.0" width="2.0" height="12.8" fill="#f6f5fa"/>
<rect x="389.0" y="320.0" width="2.0" height="12.8" fill="#f4d4da"/>
<rect x="391.0" y="320.0" width="2.0" height="12.8" fill="#f6f5fa"/>
<rect x="393.0" y="320.0" width="2.0" height="12.8" fill="#f4d4da"/>
<rect x="395.0" y="320.0" width="2.0" height="12.8" fill="#f6f5fa"/>
<rect x="397.0" y="320.0" width="2.0" height="12.8" fill="#f4d4da"/>
<rect x="399.0" y="320.0" width="1.3" height="12.8" fill="#f6f5fa"/>
<rect x="397.0" y="320.0" width="1.0" height="12.8" fill="#ee9da6"/>
<rect x="540.6" y="320.0" width="18.2" height="12.8" fill="#f5e2e8"/>
<rect x="576.7" y="320.0" width="2.5" height="12.8" fill="#f21d1d"/>
<rect x="579.2" y="320.0" width="11.0" height="12.8" fill="#d6e8fc"/>
<rect x="594.0" y="320.0" width="8.0" height="12.8" fill="#d6e8fc"/>
<rect x="650.0" y="320.0" width="2.0" height="12.8" fill="#d6e8fc"/>
<rect x="652.0" y="320.0" width="2.0" height="12.8" fill="#f5e2e8"/>
<rect x="654.0" y="320.0" width="2.0" height="12.8" fill="#d6e8fc"/>
<rect x="656.0" y="320.0" width="2.0" height="12.8" fill="#f5e2e8"/>
<rect x="658.0" y="320.0" width="2.0" height="12.8" fill="#d6e8fc"/>
<rect x="660.0" y="320.0" width="2.0" height="12.8" fill="#f5e2e8"/>
<rect x="662.0" y="320.0" width="2.0" height="12.8" fill="#d6e8fc"/>
<rect x="664.0" y="320.0" width="2.0" height="12.8" fill="#f5e2e8"/>
<rect x="666.0" y="320.0" width="2.0" height="12.8" fill="#d6e8fc"/>
<rect x="668.0" y="320.0" width="2.0" height="12.8" fill="#f5e2e8"/>
<rect x="670.0" y="320.0" width="1.0" height="12.8" fill="#d6e8fc"/>
<rect x="673.8" y="320.0" width="9.2" height="12.8" fill="#4a96f5"/>
<rect x="254.8" y="320.0" width="24.7" height="12.8" fill="#e2edfc"/>
<rect x="400.3" y="320.0" width="9.7" height="12.8" fill="#d6e8fc"/>
<rect x="410.0" y="320.0" width="10.0" height="12.8" fill="#ebf1fc"/>
<rect x="420.0" y="320.0" width="1.0" height="12.8" fill="#f2c2ca"/>
<rect x="426.0" y="320.0" width="15.0" height="12.8" fill="#d6e8fc"/>
<rect x="441.0" y="320.0" width="9.0" height="12.8" fill="#ebf1fc"/>
<rect x="475.8" y="320.0" width="6.2" height="12.8" fill="#d6e8fc"/>
<rect x="483.0" y="320.0" width="1.0" height="12.8" fill="#f2c2ca"/>
<rect x="486.0" y="320.0" width="2.0" height="12.8" fill="#ec5c63"/>
<rect x="490.0" y="320.0" width="3.0" height="12.8" fill="#ee9da6"/>
<rect x="493.0" y="320.0" width="6.8" height="12.8" fill="#ebf1fc"/>
<rect x="120" y="336.0" width="563" height="12.8" fill="#f6f5fa"/>
<rect x="120.0" y="336.0" width="8.6" height="12.8" fill="#ee9da6"/>
<rect x="128.6" y="336.0" width="2.0" height="12.8" fill="#f2c2ca"/>
<rect x="130.6" y="336.0" width="2.0" height="12.8" fill="#f5e2e8"/>
<rect x="132.6" y="336.0" width="2.0" height="12.8" fill="#f2c2ca"/>
<rect x="134.6" y="336.0" width="2.0" height="12.8" fill="#f5e2e8"/>
<rect x="136.6" y="336.0" width="2.0" height="12.8" fill="#f2c2ca"/>
<rect x="138.6" y="336.0" width="1.0" height="12.8" fill="#f5e2e8"/>
<rect x="145.0" y="336.0" width="2.0" height="12.8" fill="#ef3c40"/>
<rect x="147.0" y="336.0" width="2.0" height="12.8" fill="#ea7078"/>
<rect x="149.0" y="336.0" width="2.0" height="12.8" fill="#ef3c40"/>
<rect x="151.0" y="336.0" width="2.0" height="12.8" fill="#ea7078"/>
<rect x="153.0" y="336.0" width="2.0" height="12.8" fill="#ef3c40"/>
<rect x="155.0" y="336.0" width="1.0" height="12.8" fill="#ea7078"/>
<rect x="156.0" y="336.0" width="8.3" height="12.8" fill="#9fcdfa"/>
<rect x="164.3" y="336.0" width="2.0" height="12.8" fill="#f5e2e8"/>
<rect x="166.3" y="336.0" width="2.0" height="12.8" fill="#f6f5fa"/>
<rect x="168.3" y="336.0" width="2.0" height="12.8" fill="#f5e2e8"/>
<rect x="170.3" y="336.0" width="2.0" height="12.8" fill="#f6f5fa"/>
<rect x="172.3" y="336.0" width="2.0" height="12.8" fill="#f5e2e8"/>
<rect x="174.3" y="336.0" width="2.0" height="12.8" fill="#f6f5fa"/>
<rect x="176.3" y="336.0" width="2.0" height="12.8" fill="#f5e2e8"/>
<rect x="178.3" y="336.0" width="2.0" height="12.8" fill="#f6f5fa"/>
<rect x="180.3" y="336.0" width="2.0" height="12.8" fill="#f5e2e8"/>
<rect x="182.3" y="336.0" width="2.0" height="12.8" fill="#f6f5fa"/>
<rect x="184.3" y="336.0" width="0.6" height="12.8" fill="#f5e2e8"/>
<rect x="184.9" y="336.0" width="16.4" height="12.8" fill="#ebf1fc"/>
<rect x="201.3" y="336.0" width="6.9" height="12.8" fill="#8cc4fa"/>
<rect x="246.6" y="336.0" width="32.9" height="12.8" fill="#ebf1fc"/>
<rect x="313.0" y="336.0" width="31.6" height="12.8" fill="#ebf1fc"/>
<rect x="319.3" y="336.0" width="1.4" height="12.8" fill="#ee9da6"/>
<rect x="344.6" y="336.0" width="28.8" height="12.8" fill="#ee9da6"/>
<rect x="344.6" y="336.0" width="2.2" height="12.8" fill="#ec5c63"/>
<rect x="373.4" y="336.0" width="26.9" height="12.8" fill="#ebf1fc"/>
<rect x="377.0" y="336.0" width="2.7" height="12.8" fill="#f2c2ca"/>
<rect x="400.3" y="336.0" width="24.7" height="12.8" fill="#72b4f8"/>
<rect x="520.4" y="336.0" width="1.6" height="12.8" fill="#f5e2e8"/>
<rect x="522.0" y="336.0" width="2.0" height="12.8" fill="#f2c2ca"/>
<rect x="524.0" y="336.0" width="2.0" height="12.8" fill="#f5e2e8"/>
<rect x="526.0" y="336.0" width="2.0" height="12.8" fill="#f2c2ca"/>
<rect x="528.0" y="336.0" width="2.0" height="12.8" fill="#f5e2e8"/>
<rect x="530.0" y="336.0" width="2.0" height="12.8" fill="#f2c2ca"/>
<rect x="532.0" y="336.0" width="2.0" height="12.8" fill="#f5e2e8"/>
<rect x="534.0" y="336.0" width="2.0" height="12.8" fill="#f2c2ca"/>
<rect x="536.0" y="336.0" width="2.0" height="12.8" fill="#f5e2e8"/>
<rect x="538.0" y="336.0" width="2.0" height="12.8" fill="#f2c2ca"/>
<rect x="626.4" y="336.0" width="8.4" height="12.8" fill="#f2c2ca"/>
<rect x="639.5" y="336.0" width="5.3" height="12.8" fill="#ee9da6"/>
<rect x="645.5" y="336.0" width="27.9" height="12.8" fill="#72b4f8"/>
<rect x="655.0" y="336.0" width="2.0" height="12.8" fill="#5ca6f7"/>
<rect x="657.0" y="336.0" width="2.0" height="12.8" fill="#72b4f8"/>
<rect x="659.0" y="336.0" width="2.0" height="12.8" fill="#5ca6f7"/>
<rect x="661.0" y="336.0" width="2.0" height="12.8" fill="#72b4f8"/>
<rect x="663.0" y="336.0" width="2.0" height="12.8" fill="#5ca6f7"/>
<rect x="673.8" y="336.0" width="9.2" height="12.8" fill="#8cc4fa"/>
<rect x="281.0" y="336.0" width="3.0" height="12.8" fill="#f6f5fa"/>
<rect x="284.0" y="336.0" width="3.0" height="12.8" fill="#f5e2e8"/>
<rect x="287.0" y="336.0" width="3.0" height="12.8" fill="#f6f5fa"/>
<rect x="290.0" y="336.0" width="3.0" height="12.8" fill="#f5e2e8"/>
<rect x="293.0" y="336.0" width="3.0" height="12.8" fill="#f6f5fa"/>
<rect x="296.0" y="336.0" width="3.0" height="12.8" fill="#f5e2e8"/>
<rect x="299.0" y="336.0" width="3.0" height="12.8" fill="#f6f5fa"/>
<rect x="302.0" y="336.0" width="3.0" height="12.8" fill="#f5e2e8"/>
<rect x="305.0" y="336.0" width="1.5" height="12.8" fill="#f2c2ca"/>
<rect x="306.5" y="336.0" width="1.5" height="12.8" fill="#f5e2e8"/>
<rect x="308.0" y="336.0" width="1.5" height="12.8" fill="#f2c2ca"/>
<rect x="309.5" y="336.0" width="1.5" height="12.8" fill="#f5e2e8"/>
<rect x="428.0" y="336.0" width="2.0" height="12.8" fill="#f5e2e8"/>
<rect x="430.0" y="336.0" width="2.0" height="12.8" fill="#f2c2ca"/>
<rect x="432.0" y="336.0" width="2.0" height="12.8" fill="#f5e2e8"/>
<rect x="434.0" y="336.0" width="2.0" height="12.8" fill="#f2c2ca"/>
<rect x="436.0" y="336.0" width="2.0" height="12.8" fill="#f5e2e8"/>
<rect x="438.0" y="336.0" width="2.0" height="12.8" fill="#f2c2ca"/>
<rect x="440.0" y="336.0" width="2.0" height="12.8" fill="#f5e2e8"/>
<rect x="442.0" y="336.0" width="2.0" height="12.8" fill="#f2c2ca"/>
<rect x="444.0" y="336.0" width="2.0" height="12.8" fill="#f5e2e8"/>
<rect x="446.0" y="336.0" width="2.0" height="12.8" fill="#f2c2ca"/>
<rect x="448.0" y="336.0" width="2.0" height="12.8" fill="#f5e2e8"/>
<rect x="450.5" y="336.0" width="25.1" height="12.8" fill="#ebf1fc"/>
<rect x="461.0" y="336.0" width="1.0" height="12.8" fill="#f2c2ca"/>
<rect x="463.0" y="336.0" width="1.0" height="12.8" fill="#f2c2ca"/>
<rect x="478.0" y="336.0" width="4.0" height="12.8" fill="#d6e8fc"/>
<rect x="486.0" y="336.0" width="3.0" height="12.8" fill="#ec5c63"/>
<rect x="489.0" y="336.0" width="2.0" height="12.8" fill="#f2c2ca"/>
<rect x="492.0" y="336.0" width="7.8" height="12.8" fill="#ebf1fc"/>
<rect x="503.0" y="336.0" width="15.0" height="12.8" fill="#8cc4fa"/>
<rect x="540.6" y="336.0" width="2.0" height="12.8" fill="#f5e2e8"/>
<rect x="542.6" y="336.0" width="2.0" height="12.8" fill="#f6f5fa"/>
<rect x="544.6" y="336.0" width="2.0" height="12.8" fill="#f5e2e8"/>
<rect x="546.6" y="336.0" width="2.0" height="12.8" fill="#f6f5fa"/>
<rect x="548.6" y="336.0" width="2.0" height="12.8" fill="#f5e2e8"/>
<rect x="550.6" y="336.0" width="2.0" height="12.8" fill="#f6f5fa"/>
<rect x="552.6" y="336.0" width="2.0" height="12.8" fill="#f5e2e8"/>
<rect x="554.6" y="336.0" width="2.0" height="12.8" fill="#f6f5fa"/>
<rect x="556.6" y="336.0" width="2.0" height="12.8" fill="#f5e2e8"/>
<rect x="558.6" y="336.0" width="0.4" height="12.8" fill="#f6f5fa"/>
<rect x="553.0" y="336.0" width="3.0" height="12.8" fill="#ee9da6"/>
<rect x="559.0" y="336.0" width="2.0" height="12.8" fill="#f5e2e8"/>
<rect x="561.0" y="336.0" width="2.0" height="12.8" fill="#f6f5fa"/>
<rect x="563.0" y="336.0" width="2.0" height="12.8" fill="#f5e2e8"/>
<rect x="565.0" y="336.0" width="2.0" height="12.8" fill="#f6f5fa"/>
<rect x="567.0" y="336.0" width="2.0" height="12.8" fill="#f5e2e8"/>
<rect x="569.0" y="336.0" width="2.0" height="12.8" fill="#f6f5fa"/>
<rect x="571.0" y="336.0" width="2.0" height="12.8" fill="#f5e2e8"/>
<rect x="573.0" y="336.0" width="2.0" height="12.8" fill="#f6f5fa"/>
<rect x="575.0" y="336.0" width="0.8" height="12.8" fill="#f5e2e8"/>
<rect x="560.0" y="336.0" width="1.0" height="12.8" fill="#ee9da6"/>
<rect x="565.0" y="336.0" width="5.0" height="12.8" fill="#f2c2ca"/>
<rect x="575.8" y="336.0" width="2.0" height="12.8" fill="#f2c2ca"/>
<rect x="577.8" y="336.0" width="2.0" height="12.8" fill="#f5e2e8"/>
<rect x="579.8" y="336.0" width="2.0" height="12.8" fill="#f2c2ca"/>
<rect x="581.8" y="336.0" width="2.0" height="12.8" fill="#f5e2e8"/>
<rect x="583.8" y="336.0" width="2.0" height="12.8" fill="#f2c2ca"/>
<rect x="585.8" y="336.0" width="2.0" height="12.8" fill="#f5e2e8"/>
<rect x="587.8" y="336.0" width="2.0" height="12.8" fill="#f2c2ca"/>
<rect x="589.8" y="336.0" width="0.2" height="12.8" fill="#f5e2e8"/>
<rect x="577.0" y="336.0" width="1.0" height="12.8" fill="#ec5c63"/>
<rect x="588.0" y="336.0" width="1.5" height="12.8" fill="#ec5c63"/>
<rect x="591.0" y="336.0" width="13.0" height="12.8" fill="#f5e2e8"/>
<rect x="605.0" y="336.0" width="6.0" height="12.8" fill="#ec5c63"/>
<rect x="611.0" y="336.0" width="3.0" height="12.8" fill="#ee9da6"/>
<rect x="616.0" y="336.0" width="2.0" height="12.8" fill="#f2c2ca"/>
<rect x="618.0" y="336.0" width="2.0" height="12.8" fill="#f6f5fa"/>
<rect x="620.0" y="336.0" width="2.0" height="12.8" fill="#f2c2ca"/>
<rect x="622.0" y="336.0" width="2.0" height="12.8" fill="#f6f5fa"/>
<rect x="624.0" y="336.0" width="2.0" height="12.8" fill="#f2c2ca"/>
<rect x="209.5" y="336.0" width="2.5" height="12.8" fill="#f5e2e8"/>
<rect x="212.0" y="336.0" width="2.5" height="12.8" fill="#f6f5fa"/>
<rect x="214.5" y="336.0" width="2.5" height="12.8" fill="#f5e2e8"/>
<rect x="217.0" y="336.0" width="2.5" height="12.8" fill="#f6f5fa"/>
<rect x="219.5" y="336.0" width="2.5" height="12.8" fill="#f5e2e8"/>
<rect x="222.0" y="336.0" width="2.5" height="12.8" fill="#f6f5fa"/>
<rect x="224.5" y="336.0" width="2.5" height="12.8" fill="#f5e2e8"/>
<rect x="227.0" y="336.0" width="2.5" height="12.8" fill="#f6f5fa"/>
<rect x="229.5" y="336.0" width="2.5" height="12.8" fill="#f5e2e8"/>
<rect x="232.0" y="336.0" width="2.5" height="12.8" fill="#f6f5fa"/>
<rect x="234.5" y="336.0" width="2.5" height="12.8" fill="#f5e2e8"/>
<rect x="237.0" y="336.0" width="2.5" height="12.8" fill="#f6f5fa"/>
<rect x="239.5" y="336.0" width="2.5" height="12.8" fill="#f5e2e8"/>
<rect x="242.0" y="336.0" width="2.5" height="12.8" fill="#f6f5fa"/>
<rect x="244.5" y="336.0" width="0.7" height="12.8" fill="#f5e2e8"/>
<rect x="217.3" y="336.0" width="1.0" height="12.8" fill="#ec5c63"/>
<rect x="222.0" y="336.0" width="1.0" height="12.8" fill="#f2c2ca"/>
<rect x="231.0" y="336.0" width="1.0" height="12.8" fill="#ec5c63"/>
<rect x="244.5" y="336.0" width="1.0" height="12.8" fill="#ee9da6"/>
<rect x="120" y="352.0" width="563" height="12.8" fill="#f6f5fa"/>
<rect x="120.0" y="352.0" width="7.2" height="12.8" fill="#f2c2ca"/>
<rect x="127.2" y="352.0" width="11.0" height="12.8" fill="#ee9da6"/>
<rect x="138.2" y="352.0" width="2.8" height="12.8" fill="#f5e2e8"/>
<rect x="141.0" y="352.0" width="8.2" height="12.8" fill="#ee9da6"/>
<rect x="149.2" y="352.0" width="0.8" height="12.8" fill="#ec5c63"/>
<rect x="212.3" y="352.0" width="10.7" height="12.8" fill="#f5e2e8"/>
<rect x="226.0" y="352.0" width="15.0" height="12.8" fill="#d6e8fc"/>
<rect x="235.6" y="352.0" width="4.1" height="12.8" fill="#b2d6fb"/>
<rect x="245.2" y="352.0" width="2.0" height="12.8" fill="#f2c2ca"/>
<rect x="247.2" y="352.0" width="2.0" height="12.8" fill="#f5e2e8"/>
<rect x="249.2" y="352.0" width="2.0" height="12.8" fill="#f2c2ca"/>
<rect x="251.2" y="352.0" width="2.0" height="12.8" fill="#f5e2e8"/>
<rect x="253.2" y="352.0" width="2.0" height="12.8" fill="#f2c2ca"/>
<rect x="255.2" y="352.0" width="2.0" height="12.8" fill="#f5e2e8"/>
<rect x="257.2" y="352.0" width="1.8" height="12.8" fill="#f2c2ca"/>
<rect x="503.0" y="352.0" width="17.2" height="12.8" fill="#d6e8fc"/>
<rect x="520.2" y="352.0" width="20.4" height="12.8" fill="#f5e2e8"/>
<rect x="545.3" y="352.0" width="2.2" height="12.8" fill="#b2d6fb"/>
<rect x="547.5" y="352.0" width="11.3" height="12.8" fill="#f5e2e8"/>
<rect x="558.8" y="352.0" width="17.0" height="12.8" fill="#e2edfc"/>
<rect x="576.7" y="352.0" width="13.5" height="12.8" fill="#d6e8fc"/>
<rect x="590.2" y="352.0" width="14.1" height="12.8" fill="#d6e8fc"/>
<rect x="606.5" y="352.0" width="7.9" height="12.8" fill="#ee9da6"/>
<rect x="626.4" y="352.0" width="8.4" height="12.8" fill="#ebf1fc"/>
<rect x="634.8" y="352.0" width="10.0" height="12.8" fill="#d6e8fc"/>
<rect x="645.5" y="352.0" width="4.5" height="12.8" fill="#b2d6fb"/>
<rect x="650.0" y="352.0" width="23.4" height="12.8" fill="#72b4f8"/>
<rect x="656.0" y="352.0" width="12.0" height="12.8" fill="#5ca6f7"/>
<rect x="673.8" y="352.0" width="9.2" height="12.8" fill="#c6e0fb"/>
<rect x="150.6" y="352.0" width="13.7" height="12.8" fill="#e2edfc"/>
<rect x="164.3" y="352.0" width="9.6" height="12.8" fill="#f2c2ca"/>
<rect x="173.9" y="352.0" width="2.0" height="12.8" fill="#f4d4da"/>
<rect x="175.9" y="352.0" width="2.0" height="12.8" fill="#f5e2e8"/>
<rect x="177.9" y="352.0" width="2.0" height="12.8" fill="#f4d4da"/>
<rect x="179.9" y="352.0" width="2.0" height="12.8" fill="#f5e2e8"/>
<rect x="181.9" y="352.0" width="2.0" height="12.8" fill="#f4d4da"/>
<rect x="183.9" y="352.0" width="1.0" height="12.8" fill="#f5e2e8"/>
<rect x="184.9" y="352.0" width="23.3" height="12.8" fill="#e2edfc"/>
<rect x="261.7" y="352.0" width="17.8" height="12.8" fill="#e2edfc"/>
<rect x="283.7" y="352.0" width="3.3" height="12.8" fill="#f5e2e8"/>
<rect x="289.0" y="352.0" width="18.0" height="12.8" fill="#e2edfc"/>
<rect x="313.5" y="352.0" width="1.5" height="12.8" fill="#ee9da6"/>
<rect x="315.0" y="352.0" width="1.5" height="12.8" fill="#f2c2ca"/>
<rect x="316.5" y="352.0" width="1.5" height="12.8" fill="#ee9da6"/>
<rect x="318.0" y="352.0" width="3.0" height="12.8" fill="#ec5c63"/>
<rect x="321.0" y="352.0" width="1.0" height="12.8" fill="#ee9da6"/>
<rect x="322.0" y="352.0" width="3.0" height="12.8" fill="#ea7078"/>
<rect x="325.0" y="352.0" width="2.0" height="12.8" fill="#f2c2ca"/>
<rect x="327.6" y="352.0" width="17.0" height="12.8" fill="#e2edfc"/>
<rect x="344.6" y="352.0" width="28.8" height="12.8" fill="#d6e8fc"/>
<rect x="373.7" y="352.0" width="6.3" height="12.8" fill="#b2d6fb"/>
<rect x="381.0" y="352.0" width="3.0" height="12.8" fill="#f21d1d"/>
<rect x="384.0" y="352.0" width="16.3" height="12.8" fill="#ec5c63"/>
<rect x="400.3" y="352.0" width="2.7" height="12.8" fill="#b2d6fb"/>
<rect x="403.0" y="352.0" width="2.0" height="12.8" fill="#f5e2e8"/>
<rect x="405.0" y="352.0" width="2.0" height="12.8" fill="#ebf1fc"/>
<rect x="407.0" y="352.0" width="2.0" height="12.8" fill="#f5e2e8"/>
<rect x="409.0" y="352.0" width="2.0" height="12.8" fill="#ebf1fc"/>
<rect x="411.0" y="352.0" width="2.0" height="12.8" fill="#f5e2e8"/>
<rect x="413.0" y="352.0" width="2.0" height="12.8" fill="#ebf1fc"/>
<rect x="415.0" y="352.0" width="2.0" height="12.8" fill="#f5e2e8"/>
<rect x="417.0" y="352.0" width="2.0" height="12.8" fill="#ebf1fc"/>
<rect x="419.0" y="352.0" width="2.0" height="12.8" fill="#f5e2e8"/>
<rect x="421.0" y="352.0" width="2.0" height="12.8" fill="#ebf1fc"/>
<rect x="423.0" y="352.0" width="2.0" height="12.8" fill="#f5e2e8"/>
<rect x="425.0" y="352.0" width="0.8" height="12.8" fill="#ebf1fc"/>
<rect x="412.2" y="352.0" width="1.0" height="12.8" fill="#ee9da6"/>
<rect x="425.8" y="352.0" width="11.2" height="12.8" fill="#ebf1fc"/>
<rect x="437.0" y="352.0" width="5.0" height="12.8" fill="#c6e0fb"/>
<rect x="442.0" y="352.0" width="8.5" height="12.8" fill="#ebf1fc"/>
<rect x="450.5" y="352.0" width="25.1" height="12.8" fill="#ebf1fc"/>
<rect x="466.0" y="352.0" width="1.0" height="12.8" fill="#f5e2e8"/>
<rect x="476.0" y="352.0" width="6.0" height="12.8" fill="#f21d1d"/>
<rect x="483.0" y="352.0" width="1.0" height="12.8" fill="#f2c2ca"/>
<rect x="484.0" y="352.0" width="6.0" height="12.8" fill="#ef3c40"/>
<rect x="490.0" y="352.0" width="9.8" height="12.8" fill="#ebf1fc"/>
<rect x="616.0" y="352.0" width="10.0" height="12.8" fill="#d6e8fc"/>
<rect x="623.0" y="352.0" width="1.0" height="12.8" fill="#ee9da6"/>
<rect x="120" y="368.0" width="563" height="12.8" fill="#f6f5fa"/>
<rect x="590.2" y="368.0" width="14.1" height="12.8" fill="#ebf1fc"/>
<rect x="605.0" y="368.0" width="10.3" height="12.8" fill="#f2c2ca"/>
<rect x="615.3" y="368.0" width="10.7" height="12.8" fill="#f2c2ca"/>
<rect x="628.5" y="368.0" width="6.3" height="12.8" fill="#ee9da6"/>
<rect x="634.8" y="368.0" width="10.0" height="12.8" fill="#d6e8fc"/>
<rect x="645.5" y="368.0" width="27.9" height="12.8" fill="#9fcdfa"/>
<rect x="673.8" y="368.0" width="9.2" height="12.8" fill="#72b4f8"/>
<rect x="133.0" y="368.0" width="31.3" height="12.8" fill="#f0b0b9"/>
<rect x="138.0" y="368.0" width="2.0" height="12.8" fill="#ee9da6"/>
<rect x="143.0" y="368.0" width="3.0" height="12.8" fill="#ee9da6"/>
<rect x="164.3" y="368.0" width="8.7" height="12.8" fill="#f5e2e8"/>
<rect x="173.5" y="368.0" width="34.7" height="12.8" fill="#f0b0b9"/>
<rect x="209.5" y="368.0" width="3.5" height="12.8" fill="#b2d6fb"/>
<rect x="213.0" y="368.0" width="4.0" height="12.8" fill="#c6e0fb"/>
<rect x="217.0" y="368.0" width="28.2" height="12.8" fill="#b2d6fb"/>
<rect x="229.5" y="368.0" width="1.5" height="12.8" fill="#8cc4fa"/>
<rect x="246.0" y="368.0" width="7.0" height="12.8" fill="#d6e8fc"/>
<rect x="253.0" y="368.0" width="6.0" height="12.8" fill="#ebf1fc"/>
<rect x="259.0" y="368.0" width="2.0" height="12.8" fill="#ebf1fc"/>
<rect x="261.0" y="368.0" width="6.0" height="12.8" fill="#d6e8fc"/>
<rect x="267.0" y="368.0" width="6.0" height="12.8" fill="#b2d6fb"/>
<rect x="273.0" y="368.0" width="7.0" height="12.8" fill="#ebf1fc"/>
<rect x="281.0" y="368.0" width="6.0" height="12.8" fill="#f2c2ca"/>
<rect x="287.0" y="368.0" width="4.0" height="12.8" fill="#8cc4fa"/>
<rect x="291.0" y="368.0" width="2.0" height="12.8" fill="#f2c2ca"/>
<rect x="293.0" y="368.0" width="12.0" height="12.8" fill="#b2d6fb"/>
<rect x="305.0" y="368.0" width="3.0" height="12.8" fill="#ebf1fc"/>
<rect x="313.5" y="368.0" width="13.5" height="12.8" fill="#f0b0b9"/>
<rect x="322.0" y="368.0" width="3.0" height="12.8" fill="#ee9da6"/>
<rect x="327.0" y="368.0" width="17.4" height="12.8" fill="#b2d6fb"/>
<rect x="344.6" y="368.0" width="20.4" height="12.8" fill="#f0b0b9"/>
<rect x="365.0" y="368.0" width="8.0" height="12.8" fill="#ee9da6"/>
<rect x="373.7" y="368.0" width="6.3" height="12.8" fill="#b2d6fb"/>
<rect x="380.0" y="368.0" width="5.0" height="12.8" fill="#ebf1fc"/>
<rect x="385.0" y="368.0" width="4.0" height="12.8" fill="#f5e2e8"/>
<rect x="389.0" y="368.0" width="3.0" height="12.8" fill="#d6e8fc"/>
<rect x="392.0" y="368.0" width="3.0" height="12.8" fill="#f21d1d"/>
<rect x="395.0" y="368.0" width="1.0" height="12.8" fill="#ebf1fc"/>
<rect x="396.5" y="368.0" width="3.8" height="12.8" fill="#f21d1d"/>
<rect x="401.0" y="368.0" width="3.0" height="12.8" fill="#8cc4fa"/>
<rect x="404.0" y="368.0" width="1.0" height="12.8" fill="#b2d6fb"/>
<rect x="405.0" y="368.0" width="1.0" height="12.8" fill="#f2c2ca"/>
<rect x="406.0" y="368.0" width="4.0" height="12.8" fill="#b2d6fb"/>
<rect x="426.0" y="368.0" width="24.5" height="12.8" fill="#c6e0fb"/>
<rect x="450.5" y="368.0" width="14.5" height="12.8" fill="#ebf1fc"/>
<rect x="460.0" y="368.0" width="1.0" height="12.8" fill="#f5e2e8"/>
<rect x="465.0" y="368.0" width="2.0" height="12.8" fill="#f21d1d"/>
<rect x="467.0" y="368.0" width="2.0" height="12.8" fill="#f5e2e8"/>
<rect x="469.0" y="368.0" width="2.0" height="12.8" fill="#f21d1d"/>
<rect x="471.0" y="368.0" width="2.0" height="12.8" fill="#ee9da6"/>
<rect x="473.0" y="368.0" width="2.0" height="12.8" fill="#ebf1fc"/>
<rect x="475.6" y="368.0" width="4.4" height="12.8" fill="#8cc4fa"/>
<rect x="480.0" y="368.0" width="3.0" height="12.8" fill="#d6e8fc"/>
<rect x="483.0" y="368.0" width="1.0" height="12.8" fill="#ee9da6"/>
<rect x="484.0" y="368.0" width="2.0" height="12.8" fill="#d6e8fc"/>
<rect x="486.0" y="368.0" width="2.0" height="12.8" fill="#ee9da6"/>
<rect x="488.0" y="368.0" width="7.0" height="12.8" fill="#ebf1fc"/>
<rect x="495.0" y="368.0" width="3.0" height="12.8" fill="#d6e8fc"/>
<rect x="503.0" y="368.0" width="3.0" height="12.8" fill="#d6e8fc"/>
<rect x="506.0" y="368.0" width="4.0" height="12.8" fill="#f5e2e8"/>
<rect x="510.0" y="368.0" width="1.0" height="12.8" fill="#ee9da6"/>
<rect x="514.0" y="368.0" width="4.0" height="12.8" fill="#f21d1d"/>
<rect x="518.0" y="368.0" width="2.0" height="12.8" fill="#ebf1fc"/>
<rect x="524.0" y="368.0" width="3.0" height="12.8" fill="#c6e0fb"/>
<rect x="527.0" y="368.0" width="3.0" height="12.8" fill="#8cc4fa"/>
<rect x="530.0" y="368.0" width="2.0" height="12.8" fill="#c6e0fb"/>
<rect x="532.0" y="368.0" width="8.6" height="12.8" fill="#d6e8fc"/>
<rect x="541.0" y="368.0" width="4.0" height="12.8" fill="#d6e8fc"/>
<rect x="545.0" y="368.0" width="14.0" height="12.8" fill="#b2d6fb"/>
<rect x="559.5" y="368.0" width="2.5" height="12.8" fill="#f4d4da"/>
<rect x="562.0" y="368.0" width="6.0" height="12.8" fill="#ebf1fc"/>
<rect x="568.0" y="368.0" width="2.0" height="12.8" fill="#f2c2ca"/>
<rect x="570.0" y="368.0" width="5.0" height="12.8" fill="#c6e0fb"/>
<rect x="576.0" y="368.0" width="1.0" height="12.8" fill="#c6e0fb"/>
<rect x="578.0" y="368.0" width="1.5" height="12.8" fill="#ec5c63"/>
<rect x="579.5" y="368.0" width="6.5" height="12.8" fill="#b2d6fb"/>
<rect x="586.0" y="368.0" width="3.0" height="12.8" fill="#f21d1d"/>
<rect x="120" y="384.0" width="563" height="12.8" fill="#f6f5fa"/>
<rect x="120.4" y="384.0" width="37.0" height="12.8" fill="#f5e2e8"/>
<rect x="161.5" y="384.0" width="1.5" height="12.8" fill="#ee9da6"/>
<rect x="164.3" y="384.0" width="43.9" height="12.8" fill="#ebf1fc"/>
<rect x="212.3" y="384.0" width="32.9" height="12.8" fill="#c6e0fb"/>
<rect x="220.5" y="384.0" width="2.8" height="12.8" fill="#8cc4fa"/>
<rect x="246.6" y="384.0" width="12.4" height="12.8" fill="#d6e8fc"/>
<rect x="281.0" y="384.0" width="32.0" height="12.8" fill="#f5e2e8"/>
<rect x="313.0" y="384.0" width="6.3" height="12.8" fill="#d6e8fc"/>
<rect x="319.3" y="384.0" width="4.7" height="12.8" fill="#ec5c63"/>
<rect x="324.0" y="384.0" width="20.6" height="12.8" fill="#ebf1fc"/>
<rect x="344.6" y="384.0" width="28.8" height="12.8" fill="#d6e8fc"/>
<rect x="361.9" y="384.0" width="11.1" height="12.8" fill="#b2d6fb"/>
<rect x="373.4" y="384.0" width="26.9" height="12.8" fill="#f5e2e8"/>
<rect x="400.3" y="384.0" width="2.0" height="12.8" fill="#f5e2e8"/>
<rect x="402.3" y="384.0" width="2.0" height="12.8" fill="#f2c2ca"/>
<rect x="404.3" y="384.0" width="2.0" height="12.8" fill="#f5e2e8"/>
<rect x="406.3" y="384.0" width="2.0" height="12.8" fill="#f2c2ca"/>
<rect x="408.3" y="384.0" width="2.0" height="12.8" fill="#f5e2e8"/>
<rect x="410.3" y="384.0" width="2.0" height="12.8" fill="#f2c2ca"/>
<rect x="412.3" y="384.0" width="2.0" height="12.8" fill="#f5e2e8"/>
<rect x="414.3" y="384.0" width="2.0" height="12.8" fill="#f2c2ca"/>
<rect x="416.3" y="384.0" width="2.0" height="12.8" fill="#f5e2e8"/>
<rect x="418.3" y="384.0" width="2.0" height="12.8" fill="#f2c2ca"/>
<rect x="420.3" y="384.0" width="2.0" height="12.8" fill="#f5e2e8"/>
<rect x="422.3" y="384.0" width="2.0" height="12.8" fill="#f2c2ca"/>
<rect x="424.3" y="384.0" width="1.5" height="12.8" fill="#f5e2e8"/>
<rect x="425.8" y="384.0" width="2.0" height="12.8" fill="#d6e8fc"/>
<rect x="427.8" y="384.0" width="2.0" height="12.8" fill="#ebf1fc"/>
<rect x="429.8" y="384.0" width="2.0" height="12.8" fill="#d6e8fc"/>
<rect x="431.8" y="384.0" width="2.0" height="12.8" fill="#ebf1fc"/>
<rect x="433.8" y="384.0" width="2.0" height="12.8" fill="#d6e8fc"/>
<rect x="435.8" y="384.0" width="2.0" height="12.8" fill="#ebf1fc"/>
<rect x="437.8" y="384.0" width="2.0" height="12.8" fill="#d6e8fc"/>
<rect x="439.8" y="384.0" width="2.0" height="12.8" fill="#ebf1fc"/>
<rect x="441.8" y="384.0" width="2.0" height="12.8" fill="#d6e8fc"/>
<rect x="443.8" y="384.0" width="2.0" height="12.8" fill="#ebf1fc"/>
<rect x="445.8" y="384.0" width="2.0" height="12.8" fill="#d6e8fc"/>
<rect x="447.8" y="384.0" width="2.0" height="12.8" fill="#ebf1fc"/>
<rect x="449.8" y="384.0" width="0.7" height="12.8" fill="#d6e8fc"/>
<rect x="450.5" y="384.0" width="2.0" height="12.8" fill="#f5e2e8"/>
<rect x="452.5" y="384.0" width="2.0" height="12.8" fill="#d6e8fc"/>
<rect x="454.5" y="384.0" width="2.0" height="12.8" fill="#f5e2e8"/>
<rect x="456.5" y="384.0" width="2.0" height="12.8" fill="#d6e8fc"/>
<rect x="458.5" y="384.0" width="2.0" height="12.8" fill="#f5e2e8"/>
<rect x="460.5" y="384.0" width="2.0" height="12.8" fill="#d6e8fc"/>
<rect x="462.5" y="384.0" width="2.0" height="12.8" fill="#f5e2e8"/>
<rect x="464.5" y="384.0" width="2.0" height="12.8" fill="#d6e8fc"/>
<rect x="466.5" y="384.0" width="2.0" height="12.8" fill="#f5e2e8"/>
<rect x="468.5" y="384.0" width="2.0" height="12.8" fill="#d6e8fc"/>
<rect x="470.5" y="384.0" width="2.0" height="12.8" fill="#f5e2e8"/>
<rect x="472.5" y="384.0" width="2.0" height="12.8" fill="#d6e8fc"/>
<rect x="474.5" y="384.0" width="1.1" height="12.8" fill="#f5e2e8"/>
<rect x="520.4" y="384.0" width="20.2" height="12.8" fill="#ebf1fc"/>
<rect x="559.0" y="384.0" width="16.8" height="12.8" fill="#f5e2e8"/>
<rect x="575.8" y="384.0" width="14.4" height="12.8" fill="#ebf1fc"/>
<rect x="592.4" y="384.0" width="11.0" height="12.8" fill="#f2c2ca"/>
<rect x="605.0" y="384.0" width="10.3" height="12.8" fill="#d6e8fc"/>
<rect x="615.3" y="384.0" width="11.1" height="12.8" fill="#f5e2e8"/>
<rect x="645.5" y="384.0" width="27.9" height="12.8" fill="#8cc4fa"/>
<rect x="652.0" y="384.0" width="3.0" height="12.8" fill="#5ca6f7"/>
<rect x="655.0" y="384.0" width="3.0" height="12.8" fill="#8cc4fa"/>
<rect x="658.0" y="384.0" width="3.0" height="12.8" fill="#5ca6f7"/>
<rect x="661.0" y="384.0" width="3.0" height="12.8" fill="#8cc4fa"/>
<rect x="664.0" y="384.0" width="3.0" height="12.8" fill="#5ca6f7"/>
<rect x="667.0" y="384.0" width="3.0" height="12.8" fill="#8cc4fa"/>
<rect x="673.8" y="384.0" width="9.2" height="12.8" fill="#72b4f8"/>
<rect x="259.0" y="384.0" width="17.0" height="12.8" fill="#e2edfc"/>
<rect x="276.0" y="384.0" width="4.0" height="12.8" fill="#c6e0fb"/>
<rect x="475.6" y="384.0" width="4.4" height="12.8" fill="#ebf1fc"/>
<rect x="480.0" y="384.0" width="3.0" height="12.8" fill="#f5e2e8"/>
<rect x="484.0" y="384.0" width="3.0" height="12.8" fill="#ea7078"/>
<rect x="487.0" y="384.0" width="3.0" height="12.8" fill="#f5e2e8"/>
<rect x="491.0" y="384.0" width="2.0" height="12.8" fill="#f2c2ca"/>
<rect x="493.0" y="384.0" width="6.8" height="12.8" fill="#ebf1fc"/>
<rect x="503.0" y="384.0" width="5.0" height="12.8" fill="#f5e2e8"/>
<rect x="508.0" y="384.0" width="12.0" height="12.8" fill="#e2edfc"/>
<rect x="540.6" y="384.0" width="18.4" height="12.8" fill="#ebf1fc"/>
<rect x="552.0" y="384.0" width="1.0" height="12.8" fill="#f5e2e8"/>
<rect x="628.0" y="384.0" width="5.0" height="12.8" fill="#d6e8fc"/>
<rect x="637.0" y="384.0" width="7.0" height="12.8" fill="#f4d4da"/>
<rect x="120" y="400.0" width="563" height="12.8" fill="#f6f5fa"/>
<rect x="209.5" y="400.0" width="15.2" height="12.8" fill="#b2d6fb"/>
<rect x="227.4" y="400.0" width="11.0" height="12.8" fill="#b2d6fb"/>
<rect x="246.6" y="400.0" width="5.4" height="12.8" fill="#f5e2e8"/>
<rect x="253.5" y="400.0" width="1.0" height="12.8" fill="#ee9da6"/>
<rect x="255.0" y="400.0" width="2.0" height="12.8" fill="#f5e2e8"/>
<rect x="257.0" y="400.0" width="2.0" height="12.8" fill="#d6e8fc"/>
<rect x="400.3" y="400.0" width="9.7" height="12.8" fill="#d6e8fc"/>
<rect x="410.0" y="400.0" width="15.8" height="12.8" fill="#ebf1fc"/>
<rect x="425.8" y="400.0" width="24.7" height="12.8" fill="#b2d6fb"/>
<rect x="450.5" y="400.0" width="6.5" height="12.8" fill="#ebf1fc"/>
<rect x="458.0" y="400.0" width="1.0" height="12.8" fill="#ee9da6"/>
<rect x="459.0" y="400.0" width="16.8" height="12.8" fill="#ebf1fc"/>
<rect x="475.8" y="400.0" width="6.8" height="12.8" fill="#b2d6fb"/>
<rect x="482.6" y="400.0" width="2.0" height="12.8" fill="#f5e2e8"/>
<rect x="484.6" y="400.0" width="2.0" height="12.8" fill="#d6e8fc"/>
<rect x="486.6" y="400.0" width="2.0" height="12.8" fill="#f5e2e8"/>
<rect x="488.6" y="400.0" width="2.0" height="12.8" fill="#d6e8fc"/>
<rect x="490.6" y="400.0" width="2.0" height="12.8" fill="#f5e2e8"/>
<rect x="492.6" y="400.0" width="2.0" height="12.8" fill="#d6e8fc"/>
<rect x="494.6" y="400.0" width="2.0" height="12.8" fill="#f5e2e8"/>
<rect x="496.6" y="400.0" width="2.0" height="12.8" fill="#d6e8fc"/>
<rect x="498.6" y="400.0" width="1.2" height="12.8" fill="#f5e2e8"/>
<rect x="503.0" y="400.0" width="15.7" height="12.8" fill="#b2d6fb"/>
<rect x="520.2" y="400.0" width="20.4" height="12.8" fill="#ebf1fc"/>
<rect x="576.7" y="400.0" width="7.9" height="12.8" fill="#ee9da6"/>
<rect x="584.6" y="400.0" width="5.6" height="12.8" fill="#ebf1fc"/>
<rect x="590.2" y="400.0" width="3.0" height="12.8" fill="#d6e8fc"/>
<rect x="593.2" y="400.0" width="3.0" height="12.8" fill="#f2c2ca"/>
<rect x="596.2" y="400.0" width="3.0" height="12.8" fill="#d6e8fc"/>
<rect x="599.2" y="400.0" width="3.0" height="12.8" fill="#f2c2ca"/>
<rect x="602.2" y="400.0" width="2.1" height="12.8" fill="#d6e8fc"/>
<rect x="604.3" y="400.0" width="2.0" height="12.8" fill="#f2c2ca"/>
<rect x="606.3" y="400.0" width="2.0" height="12.8" fill="#d6e8fc"/>
<rect x="608.3" y="400.0" width="2.0" height="12.8" fill="#f2c2ca"/>
<rect x="610.3" y="400.0" width="2.0" height="12.8" fill="#d6e8fc"/>
<rect x="612.3" y="400.0" width="2.0" height="12.8" fill="#f2c2ca"/>
<rect x="614.3" y="400.0" width="1.0" height="12.8" fill="#d6e8fc"/>
<rect x="615.3" y="400.0" width="10.7" height="12.8" fill="#ebf1fc"/>
<rect x="628.5" y="400.0" width="6.3" height="12.8" fill="#ec5c63"/>
<rect x="634.8" y="400.0" width="10.0" height="12.8" fill="#ebf1fc"/>
<rect x="645.9" y="400.0" width="3.0" height="12.8" fill="#f2c2ca"/>
<rect x="648.9" y="400.0" width="8.3" height="12.8" fill="#ee9da6"/>
<rect x="673.8" y="400.0" width="9.2" height="12.8" fill="#4a96f5"/>
<rect x="120.4" y="400.0" width="6.8" height="12.8" fill="#ee9da6"/>
<rect x="127.2" y="400.0" width="1.8" height="12.8" fill="#ef3c40"/>
<rect x="129.0" y="400.0" width="7.5" height="12.8" fill="#f21d1d"/>
<rect x="136.5" y="400.0" width="2.7" height="12.8" fill="#ef3c40"/>
<rect x="139.2" y="400.0" width="3.8" height="12.8" fill="#ee9da6"/>
<rect x="143.0" y="400.0" width="7.0" height="12.8" fill="#f2c2ca"/>
<rect x="150.0" y="400.0" width="1.0" height="12.8" fill="#ec5c63"/>
<rect x="152.0" y="400.0" width="12.3" height="12.8" fill="#ebf1fc"/>
<rect x="178.0" y="400.0" width="2.0" height="12.8" fill="#f2c2ca"/>
<rect x="180.5" y="400.0" width="1.0" height="12.8" fill="#ee9da6"/>
<rect x="186.0" y="400.0" width="22.2" height="12.8" fill="#b2d6fb"/>
<rect x="193.0" y="400.0" width="3.0" height="12.8" fill="#72b4f8"/>
<rect x="201.0" y="400.0" width="1.0" height="12.8" fill="#8cc4fa"/>
<rect x="259.0" y="400.0" width="3.0" height="12.8" fill="#f5e2e8"/>
<rect x="262.0" y="400.0" width="3.0" height="12.8" fill="#d6e8fc"/>
<rect x="265.0" y="400.0" width="11.0" height="12.8" fill="#f4d4da"/>
<rect x="276.0" y="400.0" width="4.0" height="12.8" fill="#b2d6fb"/>
<rect x="281.0" y="400.0" width="10.0" height="12.8" fill="#f0b0b9"/>
<rect x="291.0" y="400.0" width="2.0" height="12.8" fill="#f5e2e8"/>
<rect x="293.0" y="400.0" width="7.0" height="12.8" fill="#f0b0b9"/>
<rect x="300.0" y="400.0" width="2.0" height="12.8" fill="#d6e8fc"/>
<rect x="302.0" y="400.0" width="3.0" height="12.8" fill="#f5e2e8"/>
<rect x="305.0" y="400.0" width="6.0" height="12.8" fill="#c6e0fb"/>
<rect x="313.5" y="400.0" width="21.5" height="12.8" fill="#f2c2ca"/>
<rect x="316.0" y="400.0" width="2.0" height="12.8" fill="#ee9da6"/>
<rect x="345.0" y="400.0" width="10.0" height="12.8" fill="#f5e2e8"/>
<rect x="355.0" y="400.0" width="18.4" height="12.8" fill="#f0b0b9"/>
<rect x="374.0" y="400.0" width="6.0" height="12.8" fill="#b2d6fb"/>
<rect x="381.0" y="400.0" width="5.0" height="12.8" fill="#f5e2e8"/>
<rect x="386.0" y="400.0" width="2.0" height="12.8" fill="#f2c2ca"/>
<rect x="388.0" y="400.0" width="2.0" height="12.8" fill="#f5e2e8"/>
<rect x="390.0" y="400.0" width="2.0" height="12.8" fill="#f2c2ca"/>
<rect x="392.0" y="400.0" width="2.0" height="12.8" fill="#f5e2e8"/>
<rect x="394.0" y="400.0" width="2.0" height="12.8" fill="#f2c2ca"/>
<rect x="396.0" y="400.0" width="2.0" height="12.8" fill="#f5e2e8"/>
<rect x="398.0" y="400.0" width="1.0" height="12.8" fill="#ee9da6"/>
<rect x="543.0" y="400.0" width="4.0" height="12.8" fill="#c6e0fb"/>
<rect x="550.0" y="400.0" width="4.0" height="12.8" fill="#f2c2ca"/>
<rect x="554.0" y="400.0" width="2.0" height="12.8" fill="#f5e2e8"/>
<rect x="556.0" y="400.0" width="2.0" height="12.8" fill="#f2c2ca"/>
<rect x="559.5" y="400.0" width="2.5" height="12.8" fill="#d6e8fc"/>
<rect x="562.0" y="400.0" width="4.0" height="12.8" fill="#c6e0fb"/>
<rect x="566.0" y="400.0" width="4.0" height="12.8" fill="#ebf1fc"/>
<rect x="570.0" y="400.0" width="5.0" height="12.8" fill="#c6e0fb"/>
<rect x="120" y="416.0" width="563" height="12.8" fill="#f6f5fa"/>
<rect x="260.0" y="416.0" width="2.0" height="12.8" fill="#f2c2ca"/>
<rect x="262.0" y="416.0" width="2.0" height="12.8" fill="#f5e2e8"/>
<rect x="264.0" y="416.0" width="2.0" height="12.8" fill="#f2c2ca"/>
<rect x="266.0" y="416.0" width="2.0" height="12.8" fill="#f5e2e8"/>
<rect x="268.0" y="416.0" width="0.6" height="12.8" fill="#f2c2ca"/>
<rect x="268.6" y="416.0" width="10.9" height="12.8" fill="#ee9da6"/>
<rect x="281.0" y="416.0" width="13.6" height="12.8" fill="#f5e2e8"/>
<rect x="294.6" y="416.0" width="4.1" height="12.8" fill="#8cc4fa"/>
<rect x="298.7" y="416.0" width="8.3" height="12.8" fill="#d6e8fc"/>
<rect x="307.0" y="416.0" width="6.0" height="12.8" fill="#f5e2e8"/>
<rect x="320.7" y="416.0" width="2.3" height="12.8" fill="#ec5c63"/>
<rect x="323.5" y="416.0" width="2.0" height="12.8" fill="#f2c2ca"/>
<rect x="325.5" y="416.0" width="2.0" height="12.8" fill="#ee9da6"/>
<rect x="327.5" y="416.0" width="2.0" height="12.8" fill="#f2c2ca"/>
<rect x="329.5" y="416.0" width="2.0" height="12.8" fill="#ee9da6"/>
<rect x="331.5" y="416.0" width="1.5" height="12.8" fill="#f2c2ca"/>
<rect x="333.0" y="416.0" width="4.2" height="12.8" fill="#ec5c63"/>
<rect x="337.2" y="416.0" width="7.4" height="12.8" fill="#f5e2e8"/>
<rect x="344.6" y="416.0" width="3.6" height="12.8" fill="#ec5c63"/>
<rect x="348.2" y="416.0" width="25.2" height="12.8" fill="#e2edfc"/>
<rect x="373.4" y="416.0" width="5.0" height="12.8" fill="#d6e8fc"/>
<rect x="378.4" y="416.0" width="8.2" height="12.8" fill="#f5e2e8"/>
<rect x="386.6" y="416.0" width="13.7" height="12.8" fill="#ee9da6"/>
<rect x="400.3" y="416.0" width="5.5" height="12.8" fill="#b2d6fb"/>
<rect x="405.8" y="416.0" width="11.0" height="12.8" fill="#f5e2e8"/>
<rect x="416.8" y="416.0" width="2.7" height="12.8" fill="#ee9da6"/>
<rect x="419.5" y="416.0" width="6.3" height="12.8" fill="#ebf1fc"/>
<rect x="425.8" y="416.0" width="8.8" height="12.8" fill="#d6e8fc"/>
<rect x="434.6" y="416.0" width="9.6" height="12.8" fill="#b2d6fb"/>
<rect x="444.2" y="416.0" width="6.3" height="12.8" fill="#d6e8fc"/>
<rect x="450.5" y="416.0" width="2.0" height="12.8" fill="#f5e2e8"/>
<rect x="452.5" y="416.0" width="2.0" height="12.8" fill="#ebf1fc"/>
<rect x="454.5" y="416.0" width="2.0" height="12.8" fill="#f5e2e8"/>
<rect x="456.5" y="416.0" width="2.0" height="12.8" fill="#ebf1fc"/>
<rect x="458.5" y="416.0" width="2.0" height="12.8" fill="#f5e2e8"/>
<rect x="460.5" y="416.0" width="2.0" height="12.8" fill="#ebf1fc"/>
<rect x="462.5" y="416.0" width="2.0" height="12.8" fill="#f5e2e8"/>
<rect x="464.5" y="416.0" width="2.0" height="12.8" fill="#ebf1fc"/>
<rect x="466.5" y="416.0" width="2.0" height="12.8" fill="#f5e2e8"/>
<rect x="468.5" y="416.0" width="2.0" height="12.8" fill="#ebf1fc"/>
<rect x="470.5" y="416.0" width="2.0" height="12.8" fill="#f5e2e8"/>
<rect x="472.5" y="416.0" width="2.0" height="12.8" fill="#ebf1fc"/>
<rect x="474.5" y="416.0" width="1.3" height="12.8" fill="#f5e2e8"/>
<rect x="457.5" y="416.0" width="1.0" height="12.8" fill="#ee9da6"/>
<rect x="476.3" y="416.0" width="6.2" height="12.8" fill="#d6e8fc"/>
<rect x="484.0" y="416.0" width="3.3" height="12.8" fill="#ef3c40"/>
<rect x="487.3" y="416.0" width="2.0" height="12.8" fill="#f2c2ca"/>
<rect x="489.3" y="416.0" width="2.0" height="12.8" fill="#f5e2e8"/>
<rect x="491.3" y="416.0" width="2.0" height="12.8" fill="#f2c2ca"/>
<rect x="493.3" y="416.0" width="2.0" height="12.8" fill="#f5e2e8"/>
<rect x="495.3" y="416.0" width="2.0" height="12.8" fill="#f2c2ca"/>
<rect x="497.3" y="416.0" width="2.0" height="12.8" fill="#f5e2e8"/>
<rect x="499.3" y="416.0" width="0.5" height="12.8" fill="#f2c2ca"/>
<rect x="503.0" y="416.0" width="17.2" height="12.8" fill="#ebf1fc"/>
<rect x="523.4" y="416.0" width="2.0" height="12.8" fill="#f2c2ca"/>
<rect x="525.4" y="416.0" width="2.0" height="12.8" fill="#ee9da6"/>
<rect x="527.4" y="416.0" width="2.0" height="12.8" fill="#f2c2ca"/>
<rect x="529.4" y="416.0" width="2.0" height="12.8" fill="#ee9da6"/>
<rect x="531.4" y="416.0" width="2.0" height="12.8" fill="#f2c2ca"/>
<rect x="533.4" y="416.0" width="2.0" height="12.8" fill="#ee9da6"/>
<rect x="535.4" y="416.0" width="2.0" height="12.8" fill="#f2c2ca"/>
<rect x="537.4" y="416.0" width="1.6" height="12.8" fill="#ee9da6"/>
<rect x="561.0" y="416.0" width="1.6" height="12.8" fill="#ee9da6"/>
<rect x="562.6" y="416.0" width="1.6" height="12.8" fill="#f2c2ca"/>
<rect x="564.2" y="416.0" width="1.6" height="12.8" fill="#ee9da6"/>
<rect x="565.8" y="416.0" width="1.6" height="12.8" fill="#f2c2ca"/>
<rect x="567.4" y="416.0" width="1.6" height="12.8" fill="#ee9da6"/>
<rect x="569.0" y="416.0" width="1.6" height="12.8" fill="#f2c2ca"/>
<rect x="570.6" y="416.0" width="1.6" height="12.8" fill="#ee9da6"/>
<rect x="572.2" y="416.0" width="1.6" height="12.8" fill="#f2c2ca"/>
<rect x="573.8" y="416.0" width="1.2" height="12.8" fill="#ee9da6"/>
<rect x="576.7" y="416.0" width="3.2" height="12.8" fill="#f21d1d"/>
<rect x="579.9" y="416.0" width="2.0" height="12.8" fill="#f2c2ca"/>
<rect x="581.9" y="416.0" width="2.0" height="12.8" fill="#f5e2e8"/>
<rect x="583.9" y="416.0" width="2.0" height="12.8" fill="#f2c2ca"/>
<rect x="585.9" y="416.0" width="2.0" height="12.8" fill="#f5e2e8"/>
<rect x="587.9" y="416.0" width="2.0" height="12.8" fill="#f2c2ca"/>
<rect x="589.9" y="416.0" width="0.3" height="12.8" fill="#f5e2e8"/>
<rect x="592.4" y="416.0" width="11.0" height="12.8" fill="#b2d6fb"/>
<rect x="605.0" y="416.0" width="10.3" height="12.8" fill="#f4d4da"/>
<rect x="615.3" y="416.0" width="2.0" height="12.8" fill="#d6e8fc"/>
<rect x="617.3" y="416.0" width="2.0" height="12.8" fill="#f2c2ca"/>
<rect x="619.3" y="416.0" width="2.0" height="12.8" fill="#d6e8fc"/>
<rect x="621.3" y="416.0" width="2.0" height="12.8" fill="#f2c2ca"/>
<rect x="623.3" y="416.0" width="2.0" height="12.8" fill="#d6e8fc"/>
<rect x="625.3" y="416.0" width="0.7" height="12.8" fill="#f2c2ca"/>
<rect x="626.0" y="416.0" width="8.8" height="12.8" fill="#f2c2ca"/>
<rect x="634.8" y="416.0" width="2.0" height="12.8" fill="#f2c2ca"/>
<rect x="636.8" y="416.0" width="2.0" height="12.8" fill="#d6e8fc"/>
<rect x="638.8" y="416.0" width="2.0" height="12.8" fill="#f2c2ca"/>
<rect x="640.8" y="416.0" width="2.0" height="12.8" fill="#d6e8fc"/>
<rect x="642.8" y="416.0" width="2.0" height="12.8" fill="#f2c2ca"/>
<rect x="673.8" y="416.0" width="9.2" height="12.8" fill="#4a96f5"/>
<rect x="120.4" y="416.0" width="2.5" height="12.8" fill="#f0b0b9"/>
<rect x="122.9" y="416.0" width="2.5" height="12.8" fill="#ee9da6"/>
<rect x="125.4" y="416.0" width="2.5" height="12.8" fill="#f0b0b9"/>
<rect x="127.9" y="416.0" width="2.5" height="12.8" fill="#ee9da6"/>
<rect x="130.4" y="416.0" width="2.5" height="12.8" fill="#f0b0b9"/>
<rect x="132.9" y="416.0" width="2.5" height="12.8" fill="#ee9da6"/>
<rect x="135.4" y="416.0" width="2.5" height="12.8" fill="#f0b0b9"/>
<rect x="137.9" y="416.0" width="2.5" height="12.8" fill="#ee9da6"/>
<rect x="140.4" y="416.0" width="2.5" height="12.8" fill="#f0b0b9"/>
<rect x="142.9" y="416.0" width="2.1" height="12.8" fill="#ee9da6"/>
<rect x="145.0" y="416.0" width="15.0" height="12.8" fill="#f5e2e8"/>
<rect x="164.3" y="416.0" width="10.7" height="12.8" fill="#f4d4da"/>
<rect x="175.0" y="416.0" width="2.0" height="12.8" fill="#f2c2ca"/>
<rect x="177.0" y="416.0" width="2.0" height="12.8" fill="#f4d4da"/>
<rect x="179.0" y="416.0" width="2.0" height="12.8" fill="#f2c2ca"/>
<rect x="181.0" y="416.0" width="2.0" height="12.8" fill="#f4d4da"/>
<rect x="183.0" y="416.0" width="2.0" height="12.8" fill="#f2c2ca"/>
<rect x="185.0" y="416.0" width="2.0" height="12.8" fill="#f4d4da"/>
<rect x="187.0" y="416.0" width="2.0" height="12.8" fill="#f2c2ca"/>
<rect x="189.0" y="416.0" width="1.0" height="12.8" fill="#f4d4da"/>
<rect x="190.0" y="416.0" width="6.0" height="12.8" fill="#ebf1fc"/>
<rect x="196.0" y="416.0" width="12.2" height="12.8" fill="#d6e8fc"/>
<rect x="209.5" y="416.0" width="3.5" height="12.8" fill="#f5e2e8"/>
<rect x="213.0" y="416.0" width="5.0" height="12.8" fill="#d6e8fc"/>
<rect x="218.0" y="416.0" width="6.0" height="12.8" fill="#9fcdfa"/>
<rect x="224.0" y="416.0" width="16.0" height="12.8" fill="#d6e8fc"/>
<rect x="240.0" y="416.0" width="5.0" height="12.8" fill="#ebf1fc"/>
<rect x="246.0" y="416.0" width="6.0" height="12.8" fill="#f5e2e8"/>
<rect x="253.8" y="416.0" width="2.0" height="12.8" fill="#f21d1d"/>
<rect x="257.0" y="416.0" width="3.0" height="12.8" fill="#f5e2e8"/>
<rect x="541.0" y="416.0" width="6.0" height="12.8" fill="#e2edfc"/>
<rect x="545.0" y="416.0" width="1.0" height="12.8" fill="#f2c2ca"/>
<rect x="547.0" y="416.0" width="12.0" height="12.8" fill="#ebf1fc"/>
<rect x="645.5" y="416.0" width="1.5" height="12.8" fill="#b2d6fb"/>
<rect x="647.0" y="416.0" width="2.0" height="12.8" fill="#8cc4fa"/>
<rect x="649.0" y="416.0" width="2.0" height="12.8" fill="#b2d6fb"/>
<rect x="651.0" y="416.0" width="1.0" height="12.8" fill="#8cc4fa"/>
<rect x="652.0" y="416.0" width="5.0" height="12.8" fill="#d6e8fc"/>
<rect x="657.0" y="416.0" width="3.0" height="12.8" fill="#ebf1fc"/>
<rect x="660.0" y="416.0" width="13.0" height="12.8" fill="#c6e0fb"/>
<rect x="120" y="432.0" width="563" height="12.8" fill="#f6f5fa"/>
<rect x="544.4" y="432.0" width="7.2" height="12.8" fill="#d6e8fc"/>
<rect x="551.6" y="432.0" width="7.2" height="12.8" fill="#f5e2e8"/>
<rect x="561.0" y="432.0" width="14.1" height="12.8" fill="#b2d6fb"/>
<rect x="576.7" y="432.0" width="3.2" height="12.8" fill="#ee9da6"/>
<rect x="579.9" y="432.0" width="2.0" height="12.8" fill="#f2c2ca"/>
<rect x="581.9" y="432.0" width="2.0" height="12.8" fill="#f5e2e8"/>
<rect x="583.9" y="432.0" width="2.0" height="12.8" fill="#f2c2ca"/>
<rect x="585.9" y="432.0" width="2.0" height="12.8" fill="#f5e2e8"/>
<rect x="587.9" y="432.0" width="2.0" height="12.8" fill="#f2c2ca"/>
<rect x="589.9" y="432.0" width="0.3" height="12.8" fill="#f5e2e8"/>
<rect x="590.2" y="432.0" width="2.0" height="12.8" fill="#d6e8fc"/>
<rect x="592.2" y="432.0" width="2.0" height="12.8" fill="#f2c2ca"/>
<rect x="594.2" y="432.0" width="2.0" height="12.8" fill="#d6e8fc"/>
<rect x="596.2" y="432.0" width="2.0" height="12.8" fill="#f2c2ca"/>
<rect x="598.2" y="432.0" width="2.0" height="12.8" fill="#d6e8fc"/>
<rect x="600.2" y="432.0" width="2.0" height="12.8" fill="#f2c2ca"/>
<rect x="602.2" y="432.0" width="2.0" height="12.8" fill="#d6e8fc"/>
<rect x="604.2" y="432.0" width="0.1" height="12.8" fill="#f2c2ca"/>
<rect x="637.9" y="432.0" width="4.7" height="12.8" fill="#ee9da6"/>
<rect x="645.9" y="432.0" width="2.1" height="12.8" fill="#b2d6fb"/>
<rect x="648.0" y="432.0" width="4.0" height="12.8" fill="#f5e2e8"/>
<rect x="652.0" y="432.0" width="5.0" height="12.8" fill="#ec5c63"/>
<rect x="658.0" y="432.0" width="15.0" height="12.8" fill="#5ca6f7"/>
<rect x="673.8" y="432.0" width="9.2" height="12.8" fill="#4a96f5"/>
<rect x="120.4" y="432.0" width="3.0" height="12.8" fill="#f2c2ca"/>
<rect x="123.4" y="432.0" width="3.0" height="12.8" fill="#ee9da6"/>
<rect x="126.4" y="432.0" width="3.0" height="12.8" fill="#f2c2ca"/>
<rect x="129.4" y="432.0" width="3.0" height="12.8" fill="#ee9da6"/>
<rect x="132.4" y="432.0" width="3.0" height="12.8" fill="#f2c2ca"/>
<rect x="135.4" y="432.0" width="3.0" height="12.8" fill="#ee9da6"/>
<rect x="138.4" y="432.0" width="2.6" height="12.8" fill="#f2c2ca"/>
<rect x="142.0" y="432.0" width="4.0" height="12.8" fill="#f21d1d"/>
<rect x="147.0" y="432.0" width="1.0" height="12.8" fill="#d6e8fc"/>
<rect x="148.0" y="432.0" width="15.0" height="12.8" fill="#ee9da6"/>
<rect x="164.3" y="432.0" width="22.7" height="12.8" fill="#f2c2ca"/>
<rect x="190.0" y="432.0" width="2.0" height="12.8" fill="#d6e8fc"/>
<rect x="199.0" y="432.0" width="1.0" height="12.8" fill="#ec5c63"/>
<rect x="209.5" y="432.0" width="18.5" height="12.8" fill="#f5e2e8"/>
<rect x="228.0" y="432.0" width="2.0" height="12.8" fill="#e2edfc"/>
<rect x="230.0" y="432.0" width="2.0" height="12.8" fill="#d6e8fc"/>
<rect x="232.0" y="432.0" width="2.0" height="12.8" fill="#f2c2ca"/>
<rect x="234.0" y="432.0" width="2.0" height="12.8" fill="#d6e8fc"/>
<rect x="236.0" y="432.0" width="2.0" height="12.8" fill="#f2c2ca"/>
<rect x="238.0" y="432.0" width="2.0" height="12.8" fill="#d6e8fc"/>
<rect x="233.0" y="432.0" width="4.0" height="12.8" fill="#8cc4fa"/>
<rect x="240.0" y="432.0" width="5.0" height="12.8" fill="#f5e2e8"/>
<rect x="259.0" y="432.0" width="19.5" height="12.8" fill="#c6e0fb"/>
<rect x="278.5" y="432.0" width="1.0" height="12.8" fill="#8cc4fa"/>
<rect x="281.0" y="432.0" width="5.0" height="12.8" fill="#ebf1fc"/>
<rect x="286.0" y="432.0" width="3.0" height="12.8" fill="#f5e2e8"/>
<rect x="289.0" y="432.0" width="1.0" height="12.8" fill="#ee9da6"/>
<rect x="290.0" y="432.0" width="4.0" height="12.8" fill="#ebf1fc"/>
<rect x="294.0" y="432.0" width="14.0" height="12.8" fill="#b2d6fb"/>
<rect x="308.0" y="432.0" width="1.0" height="12.8" fill="#8cc4fa"/>
<rect x="310.0" y="432.0" width="3.0" height="12.8" fill="#ebf1fc"/>
<rect x="313.5" y="432.0" width="3.5" height="12.8" fill="#d6e8fc"/>
<rect x="317.0" y="432.0" width="7.0" height="12.8" fill="#f4d4da"/>
<rect x="324.0" y="432.0" width="9.0" height="12.8" fill="#c6e0fb"/>
<rect x="333.0" y="432.0" width="11.4" height="12.8" fill="#b2d6fb"/>
<rect x="345.0" y="432.0" width="15.0" height="12.8" fill="#f4d4da"/>
<rect x="360.0" y="432.0" width="5.0" height="12.8" fill="#f5e2e8"/>
<rect x="374.0" y="432.0" width="3.0" height="12.8" fill="#f2c2ca"/>
<rect x="377.0" y="432.0" width="3.0" height="12.8" fill="#ee9da6"/>
<rect x="380.0" y="432.0" width="3.0" height="12.8" fill="#ec5c63"/>
<rect x="383.0" y="432.0" width="3.0" height="12.8" fill="#ee9da6"/>
<rect x="386.0" y="432.0" width="3.0" height="12.8" fill="#b2d6fb"/>
<rect x="389.0" y="432.0" width="3.0" height="12.8" fill="#d6e8fc"/>
<rect x="392.0" y="432.0" width="3.0" height="12.8" fill="#f2c2ca"/>
<rect x="395.0" y="432.0" width="5.3" height="12.8" fill="#ebf1fc"/>
<rect x="400.3" y="432.0" width="3.7" height="12.8" fill="#ebf1fc"/>
<rect x="404.0" y="432.0" width="2.0" height="12.8" fill="#f2c2ca"/>
<rect x="406.0" y="432.0" width="7.0" height="12.8" fill="#f5e2e8"/>
<rect x="415.0" y="432.0" width="10.8" height="12.8" fill="#9fcdfa"/>
<rect x="426.0" y="432.0" width="4.0" height="12.8" fill="#d6e8fc"/>
<rect x="432.0" y="432.0" width="8.0" height="12.8" fill="#9fcdfa"/>
<rect x="440.0" y="432.0" width="10.5" height="12.8" fill="#c6e0fb"/>
<rect x="451.0" y="432.0" width="2.0" height="12.8" fill="#8cc4fa"/>
<rect x="453.0" y="432.0" width="7.0" height="12.8" fill="#b2d6fb"/>
<rect x="460.0" y="432.0" width="6.0" height="12.8" fill="#d6e8fc"/>
<rect x="466.0" y="432.0" width="9.5" height="12.8" fill="#ebf1fc"/>
<rect x="476.0" y="432.0" width="6.0" height="12.8" fill="#e2edfc"/>
<rect x="483.0" y="432.0" width="1.0" height="12.8" fill="#f2c2ca"/>
<rect x="484.0" y="432.0" width="2.0" height="12.8" fill="#ea7078"/>
<rect x="486.0" y="432.0" width="10.0" height="12.8" fill="#9fcdfa"/>
<rect x="496.0" y="432.0" width="3.8" height="12.8" fill="#ebf1fc"/>
<rect x="503.0" y="432.0" width="8.0" height="12.8" fill="#f4d4da"/>
<rect x="520.4" y="432.0" width="20.2" height="12.8" fill="#f4d4da"/>
<rect x="605.0" y="432.0" width="2.0" height="12.8" fill="#d6e8fc"/>
<rect x="607.0" y="432.0" width="2.0" height="12.8" fill="#f5e2e8"/>
<rect x="609.0" y="432.0" width="3.0" height="12.8" fill="#c6e0fb"/>
<rect x="612.0" y="432.0" width="2.0" height="12.8" fill="#f2c2ca"/>
<rect x="615.7" y="432.0" width="2.3" height="12.8" fill="#ebf1fc"/>
<rect x="618.0" y="432.0" width="4.0" height="12.8" fill="#d6e8fc"/>
<rect x="622.0" y="432.0" width="2.0" height="12.8" fill="#f2c2ca"/>
<rect x="624.0" y="432.0" width="2.0" height="12.8" fill="#ebf1fc"/>
<rect x="120" y="448.0" width="563" height="12.8" fill="#f6f5fa"/>
<rect x="520.4" y="448.0" width="20.2" height="12.8" fill="#ebf1fc"/>
<rect x="645.9" y="448.0" width="27.1" height="12.8" fill="#72b4f8"/>
<rect x="673.8" y="448.0" width="9.2" height="12.8" fill="#72b4f8"/>
<rect x="120.4" y="448.0" width="22.6" height="12.8" fill="#f4d4da"/>
<rect x="143.0" y="448.0" width="21.3" height="12.8" fill="#f5e2e8"/>
<rect x="172.0" y="448.0" width="9.0" height="12.8" fill="#d6e8fc"/>
<rect x="184.5" y="448.0" width="40.5" height="12.8" fill="#b2d6fb"/>
<rect x="225.0" y="448.0" width="5.0" height="12.8" fill="#9fcdfa"/>
<rect x="235.0" y="448.0" width="1.0" height="12.8" fill="#f2c2ca"/>
<rect x="259.0" y="448.0" width="2.0" height="12.8" fill="#f2c2ca"/>
<rect x="261.0" y="448.0" width="19.0" height="12.8" fill="#d6e8fc"/>
<rect x="281.0" y="448.0" width="3.0" height="12.8" fill="#f5e2e8"/>
<rect x="284.0" y="448.0" width="3.0" height="12.8" fill="#f0b0b9"/>
<rect x="287.0" y="448.0" width="2.0" height="12.8" fill="#ef3c40"/>
<rect x="289.0" y="448.0" width="5.0" height="12.8" fill="#f0b0b9"/>
<rect x="294.0" y="448.0" width="2.0" height="12.8" fill="#ee9da6"/>
<rect x="296.0" y="448.0" width="4.0" height="12.8" fill="#f2c2ca"/>
<rect x="300.0" y="448.0" width="2.0" height="12.8" fill="#ee9da6"/>
<rect x="302.0" y="448.0" width="1.0" height="12.8" fill="#f0b0b9"/>
<rect x="303.0" y="448.0" width="2.0" height="12.8" fill="#ea7078"/>
<rect x="305.0" y="448.0" width="4.0" height="12.8" fill="#f5e2e8"/>
<rect x="309.0" y="448.0" width="4.0" height="12.8" fill="#ebf1fc"/>
<rect x="313.5" y="448.0" width="2.5" height="12.8" fill="#9fcdfa"/>
<rect x="316.0" y="448.0" width="2.0" height="12.8" fill="#f5e2e8"/>
<rect x="320.0" y="448.0" width="1.5" height="12.8" fill="#ec5c63"/>
<rect x="335.0" y="448.0" width="9.4" height="12.8" fill="#b2d6fb"/>
<rect x="345.0" y="448.0" width="2.0" height="12.8" fill="#f4d4da"/>
<rect x="347.0" y="448.0" width="4.0" height="12.8" fill="#9fcdfa"/>
<rect x="351.0" y="448.0" width="2.0" height="12.8" fill="#f5e2e8"/>
<rect x="353.0" y="448.0" width="2.0" height="12.8" fill="#ebf1fc"/>
<rect x="355.0" y="448.0" width="18.4" height="12.8" fill="#f5e2e8"/>
<rect x="374.0" y="448.0" width="2.0" height="12.8" fill="#f5e2e8"/>
<rect x="376.0" y="448.0" width="2.0" height="12.8" fill="#f2c2ca"/>
<rect x="378.0" y="448.0" width="2.0" height="12.8" fill="#f5e2e8"/>
<rect x="380.0" y="448.0" width="2.0" height="12.8" fill="#f2c2ca"/>
<rect x="382.0" y="448.0" width="2.0" height="12.8" fill="#f5e2e8"/>
<rect x="384.0" y="448.0" width="2.0" height="12.8" fill="#f2c2ca"/>
<rect x="386.0" y="448.0" width="2.0" height="12.8" fill="#f5e2e8"/>
<rect x="388.0" y="448.0" width="2.0" height="12.8" fill="#f2c2ca"/>
<rect x="390.0" y="448.0" width="2.0" height="12.8" fill="#f5e2e8"/>
<rect x="392.0" y="448.0" width="3.0" height="12.8" fill="#ee9da6"/>
<rect x="395.0" y="448.0" width="5.3" height="12.8" fill="#f5e2e8"/>
<rect x="400.3" y="448.0" width="1.7" height="12.8" fill="#ebf1fc"/>
<rect x="403.0" y="448.0" width="9.0" height="12.8" fill="#b2d6fb"/>
<rect x="426.0" y="448.0" width="10.0" height="12.8" fill="#e2edfc"/>
<rect x="436.0" y="448.0" width="13.0" height="12.8" fill="#b2d6fb"/>
<rect x="449.5" y="448.0" width="1.0" height="12.8" fill="#ee9da6"/>
<rect x="451.0" y="448.0" width="6.0" height="12.8" fill="#d6e8fc"/>
<rect x="476.0" y="448.0" width="4.0" height="12.8" fill="#ebf1fc"/>
<rect x="480.0" y="448.0" width="2.0" height="12.8" fill="#f5e2e8"/>
<rect x="482.0" y="448.0" width="2.0" height="12.8" fill="#c6e0fb"/>
<rect x="484.0" y="448.0" width="2.0" height="12.8" fill="#ea7078"/>
<rect x="486.0" y="448.0" width="10.0" height="12.8" fill="#b2d6fb"/>
<rect x="496.0" y="448.0" width="3.8" height="12.8" fill="#ebf1fc"/>
<rect x="503.0" y="448.0" width="3.0" height="12.8" fill="#d6e8fc"/>
<rect x="506.0" y="448.0" width="2.0" height="12.8" fill="#ea7078"/>
<rect x="508.0" y="448.0" width="12.0" height="12.8" fill="#ebf1fc"/>
<rect x="545.0" y="448.0" width="6.0" height="12.8" fill="#b2d6fb"/>
<rect x="562.5" y="448.0" width="2.0" height="12.8" fill="#b2d6fb"/>
<rect x="577.0" y="448.0" width="2.0" height="12.8" fill="#d6e8fc"/>
<rect x="581.6" y="448.0" width="8.4" height="12.8" fill="#f2c2ca"/>
<rect x="605.0" y="448.0" width="7.0" height="12.8" fill="#f5e2e8"/>
<rect x="627.0" y="448.0" width="4.0" height="12.8" fill="#b2d6fb"/>
<rect x="631.0" y="448.0" width="5.0" height="12.8" fill="#ebf1fc"/>
<rect x="120" y="464.0" width="563" height="12.8" fill="#f6f5fa"/>
<rect x="526.5" y="464.0" width="3.1" height="12.8" fill="#ee9da6"/>
<rect x="120.4" y="464.0" width="4.6" height="12.8" fill="#f5e2e8"/>
<rect x="125.5" y="464.0" width="1.0" height="12.8" fill="#f2c2ca"/>
<rect x="127.0" y="464.0" width="4.0" height="12.8" fill="#f5e2e8"/>
<rect x="131.0" y="464.0" width="9.0" height="12.8" fill="#f0b0b9"/>
<rect x="140.0" y="464.0" width="4.0" height="12.8" fill="#ee9da6"/>
<rect x="144.0" y="464.0" width="8.0" height="12.8" fill="#f0b0b9"/>
<rect x="152.0" y="464.0" width="12.3" height="12.8" fill="#f2c2ca"/>
<rect x="164.3" y="464.0" width="43.9" height="12.8" fill="#b2d6fb"/>
<rect x="167.0" y="464.0" width="2.0" height="12.8" fill="#ee9da6"/>
<rect x="169.0" y="464.0" width="2.0" height="12.8" fill="#d6e8fc"/>
<rect x="171.0" y="464.0" width="1.0" height="12.8" fill="#ee9da6"/>
<rect x="175.0" y="464.0" width="1.0" height="12.8" fill="#f2c2ca"/>
<rect x="177.0" y="464.0" width="2.0" height="12.8" fill="#8cc4fa"/>
<rect x="179.0" y="464.0" width="2.0" height="12.8" fill="#d6e8fc"/>
<rect x="182.5" y="464.0" width="1.5" height="12.8" fill="#f21d1d"/>
<rect x="189.0" y="464.0" width="1.0" height="12.8" fill="#ee9da6"/>
<rect x="195.0" y="464.0" width="1.0" height="12.8" fill="#f2c2ca"/>
<rect x="200.0" y="464.0" width="1.0" height="12.8" fill="#f2c2ca"/>
<rect x="209.5" y="464.0" width="22.5" height="12.8" fill="#ebf1fc"/>
<rect x="220.0" y="464.0" width="1.0" height="12.8" fill="#f2c2ca"/>
<rect x="232.0" y="464.0" width="2.0" height="12.8" fill="#f5e2e8"/>
<rect x="234.0" y="464.0" width="2.0" height="12.8" fill="#ebf1fc"/>
<rect x="236.0" y="464.0" width="2.0" height="12.8" fill="#f5e2e8"/>
<rect x="238.0" y="464.0" width="2.0" height="12.8" fill="#ebf1fc"/>
<rect x="240.0" y="464.0" width="5.0" height="12.8" fill="#f0b0b9"/>
<rect x="259.0" y="464.0" width="10.0" height="12.8" fill="#ebf1fc"/>
<rect x="269.0" y="464.0" width="3.0" height="12.8" fill="#f4d4da"/>
<rect x="272.0" y="464.0" width="4.0" height="12.8" fill="#ebf1fc"/>
<rect x="276.0" y="464.0" width="2.0" height="12.8" fill="#f4d4da"/>
<rect x="278.0" y="464.0" width="2.0" height="12.8" fill="#ebf1fc"/>
<rect x="281.0" y="464.0" width="4.0" height="12.8" fill="#f5e2e8"/>
<rect x="285.0" y="464.0" width="1.0" height="12.8" fill="#f2c2ca"/>
<rect x="286.0" y="464.0" width="2.0" height="12.8" fill="#f21d1d"/>
<rect x="288.0" y="464.0" width="6.0" height="12.8" fill="#ebf1fc"/>
<rect x="294.0" y="464.0" width="14.0" height="12.8" fill="#b2d6fb"/>
<rect x="308.0" y="464.0" width="5.0" height="12.8" fill="#9fcdfa"/>
<rect x="313.5" y="464.0" width="1.5" height="12.8" fill="#ebf1fc"/>
<rect x="315.0" y="464.0" width="3.0" height="12.8" fill="#f5e2e8"/>
<rect x="318.0" y="464.0" width="3.0" height="12.8" fill="#ec5c63"/>
<rect x="321.0" y="464.0" width="2.0" height="12.8" fill="#e2edfc"/>
<rect x="323.0" y="464.0" width="3.0" height="12.8" fill="#b2d6fb"/>
<rect x="326.0" y="464.0" width="11.0" height="12.8" fill="#4a96f5"/>
<rect x="337.0" y="464.0" width="4.0" height="12.8" fill="#b2d6fb"/>
<rect x="341.0" y="464.0" width="3.4" height="12.8" fill="#8cc4fa"/>
<rect x="345.0" y="464.0" width="5.0" height="12.8" fill="#ef3c40"/>
<rect x="350.0" y="464.0" width="2.0" height="12.8" fill="#ee9da6"/>
<rect x="352.0" y="464.0" width="3.0" height="12.8" fill="#f2c2ca"/>
<rect x="355.0" y="464.0" width="3.0" height="12.8" fill="#ee9da6"/>
<rect x="358.0" y="464.0" width="4.0" height="12.8" fill="#f2c2ca"/>
<rect x="362.0" y="464.0" width="3.0" height="12.8" fill="#ee9da6"/>
<rect x="365.0" y="464.0" width="8.4" height="12.8" fill="#f2c2ca"/>
<rect x="374.0" y="464.0" width="4.0" height="12.8" fill="#b2d6fb"/>
<rect x="378.0" y="464.0" width="4.0" height="12.8" fill="#f5e2e8"/>
<rect x="382.0" y="464.0" width="2.0" height="12.8" fill="#ee9da6"/>
<rect x="384.0" y="464.0" width="4.0" height="12.8" fill="#f5e2e8"/>
<rect x="390.0" y="464.0" width="3.0" height="12.8" fill="#ec5c63"/>
<rect x="393.0" y="464.0" width="3.0" height="12.8" fill="#ee9da6"/>
<rect x="396.0" y="464.0" width="4.3" height="12.8" fill="#f5e2e8"/>
<rect x="400.3" y="464.0" width="0.7" height="12.8" fill="#ec5c63"/>
<rect x="401.0" y="464.0" width="4.0" height="12.8" fill="#9fcdfa"/>
<rect x="405.0" y="464.0" width="1.0" height="12.8" fill="#ebf1fc"/>
<rect x="406.0" y="464.0" width="4.0" height="12.8" fill="#b2d6fb"/>
<rect x="410.0" y="464.0" width="15.8" height="12.8" fill="#f2c2ca"/>
<rect x="426.0" y="464.0" width="24.5" height="12.8" fill="#b2d6fb"/>
<rect x="451.0" y="464.0" width="9.0" height="12.8" fill="#ebf1fc"/>
<rect x="460.0" y="464.0" width="7.0" height="12.8" fill="#f0b0b9"/>
<rect x="467.0" y="464.0" width="2.0" height="12.8" fill="#ebf1fc"/>
<rect x="469.0" y="464.0" width="6.5" height="12.8" fill="#f0b0b9"/>
<rect x="475.6" y="464.0" width="1.4" height="12.8" fill="#f2c2ca"/>
<rect x="477.0" y="464.0" width="4.0" height="12.8" fill="#ef3c40"/>
<rect x="481.0" y="464.0" width="3.0" height="12.8" fill="#ebf1fc"/>
<rect x="484.0" y="464.0" width="2.0" height="12.8" fill="#ee9da6"/>
<rect x="486.0" y="464.0" width="13.8" height="12.8" fill="#ebf1fc"/>
<rect x="503.0" y="464.0" width="11.0" height="12.8" fill="#ebf1fc"/>
<rect x="514.0" y="464.0" width="6.0" height="12.8" fill="#b2d6fb"/>
<rect x="541.0" y="464.0" width="2.0" height="12.8" fill="#ebf1fc"/>
<rect x="543.0" y="464.0" width="5.0" height="12.8" fill="#d6e8fc"/>
<rect x="548.0" y="464.0" width="4.0" height="12.8" fill="#b2d6fb"/>
<rect x="552.0" y="464.0" width="7.0" height="12.8" fill="#ef3c40"/>
<rect x="559.5" y="464.0" width="6.5" height="12.8" fill="#c6e0fb"/>
<rect x="566.0" y="464.0" width="4.0" height="12.8" fill="#b2d6fb"/>
<rect x="570.0" y="464.0" width="2.0" height="12.8" fill="#ec5c63"/>
<rect x="572.0" y="464.0" width="3.0" height="12.8" fill="#ebf1fc"/>
<rect x="576.0" y="464.0" width="2.0" height="12.8" fill="#f21d1d"/>
<rect x="578.0" y="464.0" width="2.0" height="12.8" fill="#b2d6fb"/>
<rect x="580.0" y="464.0" width="4.0" height="12.8" fill="#f5e2e8"/>
<rect x="586.0" y="464.0" width="4.0" height="12.8" fill="#ea7078"/>
<rect x="591.0" y="464.0" width="13.0" height="12.8" fill="#d6e8fc"/>
<rect x="605.0" y="464.0" width="4.0" height="12.8" fill="#f5e2e8"/>
<rect x="609.0" y="464.0" width="2.0" height="12.8" fill="#d6e8fc"/>
<rect x="611.0" y="464.0" width="2.0" height="12.8" fill="#b2d6fb"/>
<rect x="613.0" y="464.0" width="2.0" height="12.8" fill="#ebf1fc"/>
<rect x="617.0" y="464.0" width="7.0" height="12.8" fill="#f0b0b9"/>
<rect x="628.0" y="464.0" width="3.0" height="12.8" fill="#f2c2ca"/>
<rect x="631.0" y="464.0" width="2.0" height="12.8" fill="#ee9da6"/>
<rect x="633.0" y="464.0" width="3.0" height="12.8" fill="#ebf1fc"/>
<rect x="636.0" y="464.0" width="4.0" height="12.8" fill="#ebf1fc"/>
<rect x="640.0" y="464.0" width="1.0" height="12.8" fill="#ee9da6"/>
<rect x="642.0" y="464.0" width="2.0" height="12.8" fill="#9fcdfa"/>
<rect x="645.5" y="464.0" width="4.5" height="12.8" fill="#ebf1fc"/>
<rect x="650.0" y="464.0" width="13.0" height="12.8" fill="#b2d6fb"/>
<rect x="663.0" y="464.0" width="10.4" height="12.8" fill="#9fcdfa"/>
<rect x="673.8" y="464.0" width="9.2" height="12.8" fill="#9fcdfa"/>
<line x1="164.6" y1="78.5" x2="164.6" y2="478.5" stroke="#333" stroke-width="1.3" stroke-dasharray="6 4.87" stroke-dashoffset="7.9"/>
<line x1="209.0" y1="78.5" x2="209.0" y2="478.5" stroke="#333" stroke-width="1.3" stroke-dasharray="6 4.87" stroke-dashoffset="7.9"/>
<line x1="245.2" y1="78.5" x2="245.2" y2="478.5" stroke="#333" stroke-width="1.3" stroke-dasharray="6 4.87" stroke-dashoffset="7.9"/>
<line x1="280.1" y1="78.5" x2="280.1" y2="478.5" stroke="#333" stroke-width="1.3" stroke-dasharray="6 4.87" stroke-dashoffset="7.9"/>
<line x1="313.2" y1="78.5" x2="313.2" y2="478.5" stroke="#333" stroke-width="1.3" stroke-dasharray="6 4.87" stroke-dashoffset="7.9"/>
<line x1="344.4" y1="78.5" x2="344.4" y2="478.5" stroke="#333" stroke-width="1.3" stroke-dasharray="6 4.87" stroke-dashoffset="7.9"/>
<line x1="373.5" y1="78.5" x2="373.5" y2="478.5" stroke="#333" stroke-width="1.3" stroke-dasharray="6 4.87" stroke-dashoffset="7.9"/>
<line x1="400.2" y1="78.5" x2="400.2" y2="478.5" stroke="#333" stroke-width="1.3" stroke-dasharray="6 4.87" stroke-dashoffset="7.9"/>
<line x1="426.0" y1="78.5" x2="426.0" y2="478.5" stroke="#333" stroke-width="1.3" stroke-dasharray="6 4.87" stroke-dashoffset="7.9"/>
<line x1="450.8" y1="78.5" x2="450.8" y2="478.5" stroke="#333" stroke-width="1.3" stroke-dasharray="6 4.87" stroke-dashoffset="7.9"/>
<line x1="475.5" y1="78.5" x2="475.5" y2="478.5" stroke="#333" stroke-width="1.3" stroke-dasharray="6 4.87" stroke-dashoffset="7.9"/>
<line x1="499.9" y1="78.5" x2="499.9" y2="478.5" stroke="#333" stroke-width="1.3" stroke-dasharray="6 4.87" stroke-dashoffset="7.9"/>
<line x1="520.9" y1="78.5" x2="520.9" y2="478.5" stroke="#333" stroke-width="1.3" stroke-dasharray="6 4.87" stroke-dashoffset="7.9"/>
<line x1="540.6" y1="78.5" x2="540.6" y2="478.5" stroke="#333" stroke-width="1.3" stroke-dasharray="6 4.87" stroke-dashoffset="7.9"/>
<line x1="559.3" y1="78.5" x2="559.3" y2="478.5" stroke="#333" stroke-width="1.3" stroke-dasharray="6 4.87" stroke-dashoffset="7.9"/>
<line x1="575.8" y1="78.5" x2="575.8" y2="478.5" stroke="#333" stroke-width="1.3" stroke-dasharray="6 4.87" stroke-dashoffset="7.9"/>
<line x1="590.6" y1="78.5" x2="590.6" y2="478.5" stroke="#333" stroke-width="1.3" stroke-dasharray="6 4.87" stroke-dashoffset="7.9"/>
<line x1="604.9" y1="78.5" x2="604.9" y2="478.5" stroke="#333" stroke-width="1.3" stroke-dasharray="6 4.87" stroke-dashoffset="7.9"/>
<line x1="615.7" y1="78.5" x2="615.7" y2="478.5" stroke="#333" stroke-width="1.3" stroke-dasharray="6 4.87" stroke-dashoffset="7.9"/>
<line x1="627.2" y1="78.5" x2="627.2" y2="478.5" stroke="#333" stroke-width="1.3" stroke-dasharray="6 4.87" stroke-dashoffset="7.9"/>
<line x1="636.0" y1="78.5" x2="636.0" y2="478.5" stroke="#333" stroke-width="1.3" stroke-dasharray="6 4.87" stroke-dashoffset="7.9"/>
<line x1="645.3" y1="78.5" x2="645.3" y2="478.5" stroke="#333" stroke-width="1.3" stroke-dasharray="6 4.87" stroke-dashoffset="7.9"/>
<line x1="673.7" y1="78.5" x2="673.7" y2="478.5" stroke="#333" stroke-width="1.3" stroke-dasharray="6 4.87" stroke-dashoffset="7.9"/>
<line x1="119.5" y1="126.45" x2="683.5" y2="126.45" stroke="#2a2a2a" stroke-width="1.15"/>
<line x1="119.5" y1="286.45" x2="683.5" y2="286.45" stroke="#2a2a2a" stroke-width="1.15"/>
<line x1="119.5" y1="398.45" x2="683.5" y2="398.45" stroke="#2a2a2a" stroke-width="1.15"/>
<path d="M119.5 78.5 V478.5 H683.5 V78.5" fill="none" stroke="#555" stroke-width="1.1"/>
<rect x="118.9" y="77.9" width="565.2" height="1.9" fill="#8d8d8d"/>
<text x="141.8" y="491" font-size="10.5" text-anchor="middle">1</text>
<text x="186.8" y="71" font-size="10.5" text-anchor="middle">2</text>
<text x="227.1" y="491" font-size="10.5" text-anchor="middle">3</text>
<text x="262.7" y="71" font-size="10.5" text-anchor="middle">4</text>
<text x="296.6" y="491" font-size="10.5" text-anchor="middle">5</text>
<text x="328.8" y="71" font-size="10.5" text-anchor="middle">6</text>
<text x="359.0" y="491" font-size="10.5" text-anchor="middle">7</text>
<text x="386.9" y="71" font-size="10.5" text-anchor="middle">8</text>
<text x="413.1" y="491" font-size="10.5" text-anchor="middle">9</text>
<text x="438.4" y="71" font-size="10.5" text-anchor="middle">10</text>
<text x="463.1" y="491" font-size="10.5" text-anchor="middle">11</text>
<text x="487.7" y="71" font-size="10.5" text-anchor="middle">12</text>
<text x="510.4" y="491" font-size="10.5" text-anchor="middle">13</text>
<text x="530.7" y="71" font-size="10.5" text-anchor="middle">14</text>
<text x="549.9" y="491" font-size="10.5" text-anchor="middle">15</text>
<text x="567.5" y="71" font-size="10.5" text-anchor="middle">16</text>
<text x="583.2" y="491" font-size="10.5" text-anchor="middle">17</text>
<text x="597.7" y="71" font-size="10.5" text-anchor="middle">18</text>
<text x="610.3" y="491" font-size="10.5" text-anchor="middle">19</text>
<text x="621.4" y="71" font-size="10.5" text-anchor="middle">20</text>
<text x="631.6" y="491" font-size="10.5" text-anchor="middle">21</text>
<text x="640.7" y="71" font-size="10.5" text-anchor="middle">22</text>
<text x="659.5" y="491" font-size="10.5" text-anchor="middle">X</text>
<text x="679.1" y="71" font-size="10.5" text-anchor="middle">Y</text>
<text transform="translate(70,77.6) rotate(-90)" font-size="10.75">Diagnosis</text>
<text transform="translate(84,77.6) rotate(-90)" font-size="10.75">Sex</text>
<text transform="translate(98.4,77.6) rotate(-90)" font-size="10.75">Follow up</text>
<text transform="translate(112.8,78.7) rotate(-90)" font-size="10.75">5′ fusion partner</text>
<text x="18" y="92.8" font-size="10.5">Case 1</text>
<rect x="60" y="81.4" width="11.7" height="11.5" fill="#d3eb3d"/>
<rect x="74.3" y="81.4" width="11.7" height="11.5" fill="#84e5fd"/>
<rect x="88.6" y="81.4" width="11.7" height="11.5" fill="#b11cfd"/>
<rect x="102.9" y="81.4" width="11.7" height="11.5" fill="#bcbdc0"/>
<text x="18" y="108.8" font-size="10.5">Case 2</text>
<rect x="60" y="97.4" width="11.7" height="11.5" fill="#e99233"/>
<rect x="74.3" y="97.4" width="11.7" height="11.5" fill="#ff66ff"/>
<rect x="88.6" y="97.4" width="11.7" height="11.5" fill="#b11cfd"/>
<rect x="102.9" y="97.4" width="11.7" height="11.5" fill="#bcbdc0"/>
<text x="18" y="124.8" font-size="10.5">Case 3</text>
<rect x="60" y="113.4" width="11.7" height="11.5" fill="#e99233"/>
<rect x="74.3" y="113.4" width="11.7" height="11.5" fill="#ff66ff"/>
<rect x="88.6" y="113.4" width="11.7" height="11.5" fill="#b11cfd"/>
<rect x="102.9" y="113.4" width="11.7" height="11.5" fill="#bcbdc0"/>
<text x="18" y="140.8" font-size="10.5">Case 4</text>
<rect x="60" y="129.4" width="11.7" height="11.5" fill="#e99233"/>
<rect x="74.3" y="129.4" width="11.7" height="11.5" fill="#84e5fd"/>
<rect x="88.6" y="129.4" width="11.7" height="11.5" fill="#b11cfd"/>
<rect x="102.9" y="129.4" width="11.7" height="11.5" fill="#bcbdc0"/>
<text x="18" y="156.8" font-size="10.5">Case 5</text>
<rect x="60" y="145.4" width="11.7" height="11.5" fill="#d3eb3d"/>
<rect x="74.3" y="145.4" width="11.7" height="11.5" fill="#ff66ff"/>
<rect x="88.6" y="145.4" width="11.7" height="11.5" fill="#b11cfd"/>
<rect x="102.9" y="145.4" width="11.7" height="11.5" fill="#44b45b"/>
<text x="18" y="172.8" font-size="10.5">Case 6</text>
<rect x="60" y="161.4" width="11.7" height="11.5" fill="#e99233"/>
<rect x="74.3" y="161.4" width="11.7" height="11.5" fill="#84e5fd"/>
<rect x="88.6" y="161.4" width="11.7" height="11.5" fill="#b11cfd"/>
<rect x="102.9" y="161.4" width="11.7" height="11.5" fill="#44b45b"/>
<text x="18" y="188.8" font-size="10.5">Case 7</text>
<rect x="60" y="177.4" width="11.7" height="11.5" fill="#e99233"/>
<line x1="60" y1="188.9" x2="71.7" y2="177.4" stroke="#231f20" stroke-width="1.5"/>
<rect x="74.3" y="177.4" width="11.7" height="11.5" fill="#ff66ff"/>
<rect x="88.6" y="177.4" width="11.7" height="11.5" fill="#231f20"/>
<line x1="88.6" y1="188.9" x2="100.3" y2="177.4" stroke="#fff" stroke-width="1.3"/>
<rect x="102.9" y="177.4" width="11.7" height="11.5" fill="#44b45b"/>
<text x="18" y="204.8" font-size="10.5">Case 8</text>
<rect x="60" y="193.4" width="11.7" height="11.5" fill="#e99233"/>
<rect x="74.3" y="193.4" width="11.7" height="11.5" fill="#ff66ff"/>
<rect x="88.6" y="193.4" width="11.7" height="11.5" fill="#bd9167"/>
<rect x="102.9" y="193.4" width="11.7" height="11.5" fill="#9b2a6f"/>
<text x="18" y="220.8" font-size="10.5">Case 9</text>
<rect x="60" y="209.4" width="11.7" height="11.5" fill="#ef2626"/>
<rect x="74.3" y="209.4" width="11.7" height="11.5" fill="#ff66ff"/>
<rect x="88.6" y="209.4" width="11.7" height="11.5" fill="#231f20"/>
<rect x="102.9" y="209.4" width="11.7" height="11.5" fill="#9b2a6f"/>
<text x="18" y="236.8" font-size="10.5">Case 10</text>
<rect x="60" y="225.4" width="11.7" height="11.5" fill="#e99233"/>
<line x1="60" y1="236.9" x2="71.7" y2="225.4" stroke="#231f20" stroke-width="1.5"/>
<rect x="74.3" y="225.4" width="11.7" height="11.5" fill="#84e5fd"/>
<rect x="88.6" y="225.4" width="11.7" height="11.5" fill="#b11cfd"/>
<rect x="102.9" y="225.4" width="11.7" height="11.5" fill="#44b45b"/>
<text x="18" y="252.8" font-size="10.5">OS191</text>
<rect x="60" y="241.4" width="11.7" height="11.5" fill="#ef2626"/>
<rect x="74.3" y="241.4" width="11.7" height="11.5" fill="#ff66ff"/>
<rect x="88.6" y="241.4" width="11.7" height="11.5" fill="#b11cfd"/>
<rect x="102.9" y="241.4" width="11.7" height="11.5" fill="#44b45b"/>
<text x="18" y="268.8" font-size="10.5">Case 11</text>
<rect x="60" y="257.4" width="11.7" height="11.5" fill="#d3eb3d"/>
<rect x="74.3" y="257.4" width="11.7" height="11.5" fill="#ff66ff"/>
<rect x="88.6" y="257.4" width="11.7" height="11.5" fill="#b11cfd"/>
<rect x="102.9" y="257.4" width="11.7" height="11.5" fill="#bcbdc0"/>
<text x="18" y="284.8" font-size="10.5">Case 12</text>
<rect x="60" y="273.4" width="11.7" height="11.5" fill="#e99233"/>
<line x1="60" y1="284.9" x2="71.7" y2="273.4" stroke="#231f20" stroke-width="1.5"/>
<rect x="74.3" y="273.4" width="11.7" height="11.5" fill="#ff66ff"/>
<rect x="88.6" y="273.4" width="11.7" height="11.5" fill="#231f20"/>
<rect x="102.9" y="273.4" width="11.7" height="11.5" fill="#44b45b"/>
<text x="18" y="300.8" font-size="10.5">Case 13</text>
<rect x="60" y="289.4" width="11.7" height="11.5" fill="#ef2626"/>
<rect x="74.3" y="289.4" width="11.7" height="11.5" fill="#84e5fd"/>
<rect x="88.6" y="289.4" width="11.7" height="11.5" fill="#bd9167"/>
<rect x="102.9" y="289.4" width="11.7" height="11.5" fill="#44b45b"/>
<text x="18" y="316.8" font-size="10.5">Case 14</text>
<rect x="60" y="305.4" width="11.7" height="11.5" fill="#ef2626"/>
<rect x="74.3" y="305.4" width="11.7" height="11.5" fill="#ff66ff"/>
<rect x="88.6" y="305.4" width="11.7" height="11.5" fill="#b11cfd"/>
<rect x="102.9" y="305.4" width="11.7" height="11.5" fill="#bcbdc0"/>
<text x="18" y="332.8" font-size="10.5">OS181</text>
<rect x="60" y="321.4" width="11.7" height="11.5" fill="#ef2626"/>
<rect x="74.3" y="321.4" width="11.7" height="11.5" fill="#ff66ff"/>
<rect x="88.6" y="321.4" width="11.7" height="11.5" fill="#b11cfd"/>
<rect x="102.9" y="321.4" width="11.7" height="11.5" fill="#bcbdc0"/>
<text x="18" y="348.8" font-size="10.5">Case 15</text>
<rect x="60" y="337.4" width="11.7" height="11.5" fill="#ef2626"/>
<rect x="74.3" y="337.4" width="11.7" height="11.5" fill="#84e5fd"/>
<rect x="88.6" y="337.4" width="11.7" height="11.5" fill="#b11cfd"/>
<rect x="102.9" y="337.4" width="11.7" height="11.5" fill="#bcbdc0"/>
<text x="18" y="364.8" font-size="10.5">Case 16</text>
<rect x="60" y="353.4" width="11.7" height="11.5" fill="#ef2626"/>
<rect x="74.3" y="353.4" width="11.7" height="11.5" fill="#84e5fd"/>
<rect x="88.6" y="353.4" width="11.7" height="11.5" fill="#231f20"/>
<rect x="102.9" y="353.4" width="11.7" height="11.5" fill="#bcbdc0"/>
<text x="18" y="380.8" font-size="10.5">OS131</text>
<rect x="60" y="369.4" width="11.7" height="11.5" fill="#ef2626"/>
<rect x="74.3" y="369.4" width="11.7" height="11.5" fill="#84e5fd"/>
<rect x="88.6" y="369.4" width="11.7" height="11.5" fill="#231f20"/>
<rect x="102.9" y="369.4" width="11.7" height="11.5" fill="#44b45b"/>
<text x="18" y="396.8" font-size="10.5">Case 17</text>
<rect x="60" y="385.4" width="11.7" height="11.5" fill="#ef2626"/>
<rect x="74.3" y="385.4" width="11.7" height="11.5" fill="#84e5fd"/>
<rect x="88.6" y="385.4" width="11.7" height="11.5" fill="#231f20"/>
<rect x="102.9" y="385.4" width="11.7" height="11.5" fill="#44b45b"/>
<text x="18" y="412.8" font-size="10.5">OS061</text>
<rect x="60" y="401.4" width="11.7" height="11.5" fill="#ef2626"/>
<rect x="74.3" y="401.4" width="11.7" height="11.5" fill="#ff66ff"/>
<rect x="88.6" y="401.4" width="11.7" height="11.5" fill="#231f20"/>
<rect x="102.9" y="401.4" width="11.7" height="11.5" fill="#bcbdc0"/>
<text x="18" y="428.8" font-size="10.5">OS188</text>
<rect x="60" y="417.4" width="11.7" height="11.5" fill="#ef2626"/>
<rect x="74.3" y="417.4" width="11.7" height="11.5" fill="#ff66ff"/>
<rect x="88.6" y="417.4" width="11.7" height="11.5" fill="#b11cfd"/>
<rect x="102.9" y="417.4" width="11.7" height="11.5" fill="#2e3192"/>
<text x="18" y="444.8" font-size="10.5">OS117</text>
<rect x="60" y="433.4" width="11.7" height="11.5" fill="#ef2626"/>
<rect x="74.3" y="433.4" width="11.7" height="11.5" fill="#ff66ff"/>
<rect x="88.6" y="433.4" width="11.7" height="11.5" fill="#231f20"/>
<rect x="102.9" y="433.4" width="11.7" height="11.5" fill="#2e3192"/>
<text x="18" y="460.8" font-size="10.5">OS222</text>
<rect x="60" y="449.4" width="11.7" height="11.5" fill="#ef2626"/>
<rect x="74.3" y="449.4" width="11.7" height="11.5" fill="#84e5fd"/>
<rect x="88.6" y="449.4" width="11.7" height="11.5" fill="#b11cfd"/>
<rect x="102.9" y="449.4" width="11.7" height="11.5" fill="#2e3192"/>
<text x="18" y="476.8" font-size="10.5">OS046</text>
<rect x="60" y="465.4" width="11.7" height="11.5" fill="#ef2626"/>
<rect x="74.3" y="465.4" width="11.7" height="11.5" fill="#84e5fd"/>
<rect x="88.6" y="465.4" width="11.7" height="11.5" fill="#231f20"/>
<rect x="102.9" y="465.4" width="11.7" height="11.5" fill="#2e3192"/>
<line x1="14.1" y1="81.0" x2="14.1" y2="124.2" stroke="#a3a3a3" stroke-width="1.1"/>
<text transform="translate(9,103.3) rotate(-90)" font-size="10.8" text-anchor="middle">Group A</text>
<line x1="14.1" y1="129.0" x2="14.1" y2="284.2" stroke="#a3a3a3" stroke-width="1.1"/>
<text transform="translate(9,208.5) rotate(-90)" font-size="10.8" text-anchor="middle">Group B</text>
<line x1="14.1" y1="289.0" x2="14.1" y2="396.2" stroke="#a3a3a3" stroke-width="1.1"/>
<text transform="translate(9,344.8) rotate(-90)" font-size="10.8" text-anchor="middle">Group C</text>
<line x1="14.1" y1="401.0" x2="14.1" y2="476.2" stroke="#a3a3a3" stroke-width="1.1"/>
<text transform="translate(9,439.9) rotate(-90)" font-size="10.8" text-anchor="middle">Group D</text>
<rect x="611" y="36" width="73" height="12" fill="url(#cb)"/>
<text x="611" y="33.6" font-size="8.3">-0.75</text>
<text x="684" y="33.6" font-size="8.2" text-anchor="end">+0.75</text>
<text x="648" y="44.3" font-size="8.3" text-anchor="middle">logR ratio</text>
<text x="3" y="498.7" font-size="12.1">Legend</text>
<text x="3" y="518" font-size="12">Diagnosis:</text>
<rect x="3.1" y="526.3" width="11.5" height="11.3" fill="#d3eb3d"/>
<text x="19.5" y="536.6" font-size="10.9">Low-grade central osteosarcoma</text>
<rect x="3.1" y="546" width="11.5" height="11.3" fill="#e99233"/>
<text x="19.5" y="556.3" font-size="10.9">Parosteal osteosarcoma</text>
<rect x="3.1" y="565.6" width="11.5" height="11.3" fill="#e99233"/>
<line x1="3.1" y1="576.9" x2="14.6" y2="565.6" stroke="#231f20" stroke-width="1.5"/>
<text x="19.5" y="575.9" font-size="10.9">Dedifferentiated parosteal osteosarcoma</text>
<rect x="3.1" y="585.3" width="11.5" height="11.3" fill="#ef2626"/>
<text x="19.5" y="595.6" font-size="10.9">Conventional osteosarcoma</text>
<text x="218" y="518" font-size="12">Sex:</text>
<rect x="218.2" y="526.3" width="11.5" height="11.3" fill="#ff66ff"/>
<text x="233.0" y="536.6" font-size="10.9">Female</text>
<rect x="218.2" y="546" width="11.5" height="11.3" fill="#84e5fd"/>
<text x="233.0" y="556.3" font-size="10.9">Male</text>
<text x="297.3" y="518" font-size="12">Follow up:</text>
<rect x="297.1" y="526.3" width="11.5" height="11.3" fill="#b11cfd"/>
<text x="313.1" y="536.6" font-size="10.9">No evidence of disease</text>
<rect x="297.1" y="546" width="11.5" height="11.3" fill="#bd9167"/>
<text x="313.1" y="556.3" font-size="10.9">Alive with disease</text>
<rect x="297.1" y="565.6" width="11.5" height="11.3" fill="#231f20"/>
<text x="313.1" y="575.9" font-size="10.9">Dead of disease</text>
<rect x="297.1" y="585.3" width="11.5" height="11.3" fill="#231f20"/>
<line x1="297.1" y1="596.5999999999999" x2="308.6" y2="585.3" stroke="#fff" stroke-width="1.3"/>
<text x="313.1" y="595.6" font-size="10.9">Dead of other causes</text>
<text x="453.1" y="518" font-size="12">5′ fusion partner:</text>
<rect x="453.1" y="526.3" width="11.5" height="11.3" fill="#44b45b"/>
<text x="468.5" y="536.6" font-size="10.9" font-style="italic">FRS2</text>
<rect x="453.1" y="546" width="11.5" height="11.3" fill="#9b2a6f"/>
<text x="468.5" y="556.3" font-size="10.9" font-style="italic">PLEKHA5</text>
<rect x="453.1" y="565.6" width="11.5" height="11.3" fill="#2e3192"/>
<text x="468.5" y="575.9" font-size="10.9" font-style="italic">TP53</text>
<rect x="453.1" y="585.3" width="11.5" height="11.3" fill="#bcbdc0"/>
<text x="468.5" y="595.6" font-size="10.9">Not applicable</text>
</svg></body></html>
